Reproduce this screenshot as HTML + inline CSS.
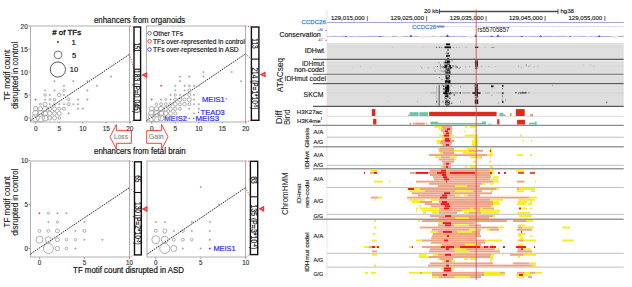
<!DOCTYPE html>
<html><head><meta charset="utf-8"><style>
html,body{margin:0;padding:0;background:#fff;}
body{width:632px;height:287px;overflow:hidden;position:relative;font-family:"Liberation Sans",sans-serif;}
svg{position:absolute;left:0;top:0;}
svg text{font-family:"Liberation Sans",sans-serif;}
</style></head><body>
<svg width="632" height="287" viewBox="0 0 632 287">
<text x="94.00" y="22.70" font-size="8.8" fill="#111" textLength="91.30" lengthAdjust="spacingAndGlyphs" stroke="#111" stroke-width="0.18">enhancers from organoids</text>
<text x="94.00" y="154.10" font-size="8.8" fill="#111" textLength="91.70" lengthAdjust="spacingAndGlyphs" stroke="#111" stroke-width="0.18">enhancers from fetal brain</text>
<rect x="30.50" y="26.00" width="99.00" height="96.00" fill="none" stroke="#b0b0b0" stroke-width="1"/>
<rect x="146.50" y="26.00" width="99.00" height="96.00" fill="none" stroke="#b0b0b0" stroke-width="1"/>
<rect x="30.50" y="161.00" width="99.00" height="96.00" fill="none" stroke="#b0b0b0" stroke-width="1"/>
<rect x="147.00" y="161.00" width="98.50" height="96.00" fill="none" stroke="#b0b0b0" stroke-width="1"/>
<line x1="35.70" y1="122.00" x2="35.70" y2="123.50" stroke="#555" stroke-width="0.6" />
<text x="35.70" y="130.50" font-size="7.2" fill="#333" text-anchor="middle" textLength="3.60" lengthAdjust="spacingAndGlyphs" stroke="#333" stroke-width="0.15">0</text>
<line x1="59.23" y1="122.00" x2="59.23" y2="123.50" stroke="#555" stroke-width="0.6" />
<text x="59.23" y="130.50" font-size="7.2" fill="#333" text-anchor="middle" textLength="3.60" lengthAdjust="spacingAndGlyphs" stroke="#333" stroke-width="0.15">5</text>
<line x1="82.75" y1="122.00" x2="82.75" y2="123.50" stroke="#555" stroke-width="0.6" />
<text x="82.75" y="130.50" font-size="7.2" fill="#333" text-anchor="middle" textLength="7.20" lengthAdjust="spacingAndGlyphs" stroke="#333" stroke-width="0.15">10</text>
<line x1="106.28" y1="122.00" x2="106.28" y2="123.50" stroke="#555" stroke-width="0.6" />
<text x="106.28" y="130.50" font-size="7.2" fill="#333" text-anchor="middle" textLength="7.20" lengthAdjust="spacingAndGlyphs" stroke="#333" stroke-width="0.15">15</text>
<line x1="129.80" y1="122.00" x2="129.80" y2="123.50" stroke="#555" stroke-width="0.6" />
<text x="129.80" y="130.50" font-size="7.2" fill="#333" text-anchor="middle" textLength="7.20" lengthAdjust="spacingAndGlyphs" stroke="#333" stroke-width="0.15">20</text>
<line x1="28.50" y1="118.00" x2="30.00" y2="118.00" stroke="#555" stroke-width="0.6" />
<text x="27.80" y="120.59" font-size="7.2" fill="#333" text-anchor="end" textLength="3.60" lengthAdjust="spacingAndGlyphs" stroke="#333" stroke-width="0.15">0</text>
<line x1="28.50" y1="95.00" x2="30.00" y2="95.00" stroke="#555" stroke-width="0.6" />
<text x="27.80" y="97.59" font-size="7.2" fill="#333" text-anchor="end" textLength="3.60" lengthAdjust="spacingAndGlyphs" stroke="#333" stroke-width="0.15">5</text>
<line x1="28.50" y1="72.00" x2="30.00" y2="72.00" stroke="#555" stroke-width="0.6" />
<text x="27.80" y="74.59" font-size="7.2" fill="#333" text-anchor="end" textLength="7.20" lengthAdjust="spacingAndGlyphs" stroke="#333" stroke-width="0.15">10</text>
<line x1="28.50" y1="49.00" x2="30.00" y2="49.00" stroke="#555" stroke-width="0.6" />
<text x="27.80" y="51.59" font-size="7.2" fill="#333" text-anchor="end" textLength="7.20" lengthAdjust="spacingAndGlyphs" stroke="#333" stroke-width="0.15">15</text>
<line x1="28.50" y1="26.00" x2="30.00" y2="26.00" stroke="#555" stroke-width="0.6" />
<text x="27.80" y="28.59" font-size="7.2" fill="#333" text-anchor="end" textLength="7.20" lengthAdjust="spacingAndGlyphs" stroke="#333" stroke-width="0.15">20</text>
<line x1="151.70" y1="122.00" x2="151.70" y2="123.50" stroke="#555" stroke-width="0.6" />
<text x="151.70" y="130.50" font-size="7.2" fill="#333" text-anchor="middle" textLength="3.60" lengthAdjust="spacingAndGlyphs" stroke="#333" stroke-width="0.15">0</text>
<line x1="175.22" y1="122.00" x2="175.22" y2="123.50" stroke="#555" stroke-width="0.6" />
<text x="175.22" y="130.50" font-size="7.2" fill="#333" text-anchor="middle" textLength="3.60" lengthAdjust="spacingAndGlyphs" stroke="#333" stroke-width="0.15">5</text>
<line x1="198.75" y1="122.00" x2="198.75" y2="123.50" stroke="#555" stroke-width="0.6" />
<text x="198.75" y="130.50" font-size="7.2" fill="#333" text-anchor="middle" textLength="7.20" lengthAdjust="spacingAndGlyphs" stroke="#333" stroke-width="0.15">10</text>
<line x1="222.27" y1="122.00" x2="222.27" y2="123.50" stroke="#555" stroke-width="0.6" />
<text x="222.27" y="130.50" font-size="7.2" fill="#333" text-anchor="middle" textLength="7.20" lengthAdjust="spacingAndGlyphs" stroke="#333" stroke-width="0.15">15</text>
<line x1="245.80" y1="122.00" x2="245.80" y2="123.50" stroke="#555" stroke-width="0.6" />
<text x="245.80" y="130.50" font-size="7.2" fill="#333" text-anchor="middle" textLength="7.20" lengthAdjust="spacingAndGlyphs" stroke="#333" stroke-width="0.15">20</text>
<line x1="39.40" y1="257.40" x2="39.40" y2="258.90" stroke="#555" stroke-width="0.6" />
<text x="39.40" y="264.60" font-size="6.4" fill="#333" text-anchor="middle" textLength="3.50" lengthAdjust="spacingAndGlyphs" stroke="#333" stroke-width="0.15">0</text>
<line x1="84.40" y1="257.40" x2="84.40" y2="258.90" stroke="#555" stroke-width="0.6" />
<text x="84.40" y="264.60" font-size="6.4" fill="#333" text-anchor="middle" textLength="3.50" lengthAdjust="spacingAndGlyphs" stroke="#333" stroke-width="0.15">5</text>
<line x1="129.40" y1="257.40" x2="129.40" y2="258.90" stroke="#555" stroke-width="0.6" />
<text x="129.40" y="264.60" font-size="6.4" fill="#333" text-anchor="middle" textLength="7.00" lengthAdjust="spacingAndGlyphs" stroke="#333" stroke-width="0.15">10</text>
<line x1="28.50" y1="248.50" x2="30.00" y2="248.50" stroke="#555" stroke-width="0.6" />
<text x="27.90" y="250.80" font-size="6.4" fill="#333" text-anchor="end" textLength="3.50" lengthAdjust="spacingAndGlyphs" stroke="#333" stroke-width="0.15">0</text>
<line x1="28.50" y1="204.50" x2="30.00" y2="204.50" stroke="#555" stroke-width="0.6" />
<text x="27.90" y="206.80" font-size="6.4" fill="#333" text-anchor="end" textLength="3.50" lengthAdjust="spacingAndGlyphs" stroke="#333" stroke-width="0.15">5</text>
<line x1="28.50" y1="160.50" x2="30.00" y2="160.50" stroke="#555" stroke-width="0.6" />
<text x="27.90" y="162.80" font-size="6.4" fill="#333" text-anchor="end" textLength="7.00" lengthAdjust="spacingAndGlyphs" stroke="#333" stroke-width="0.15">10</text>
<line x1="155.80" y1="257.40" x2="155.80" y2="258.90" stroke="#555" stroke-width="0.6" />
<text x="155.80" y="264.60" font-size="6.4" fill="#333" text-anchor="middle" textLength="3.50" lengthAdjust="spacingAndGlyphs" stroke="#333" stroke-width="0.15">0</text>
<line x1="200.80" y1="257.40" x2="200.80" y2="258.90" stroke="#555" stroke-width="0.6" />
<text x="200.80" y="264.60" font-size="6.4" fill="#333" text-anchor="middle" textLength="3.50" lengthAdjust="spacingAndGlyphs" stroke="#333" stroke-width="0.15">5</text>
<line x1="245.80" y1="257.40" x2="245.80" y2="258.90" stroke="#555" stroke-width="0.6" />
<text x="245.80" y="264.60" font-size="6.4" fill="#333" text-anchor="middle" textLength="7.00" lengthAdjust="spacingAndGlyphs" stroke="#333" stroke-width="0.15">10</text>
<text x="9.80" y="75.30" font-size="8.9" fill="#111" text-anchor="middle" textLength="51.00" lengthAdjust="spacingAndGlyphs" transform="rotate(-90 9.80 75.30)" stroke="#111" stroke-width="0.1">TF motif count</text>
<text x="18.40" y="75.30" font-size="8.9" fill="#111" text-anchor="middle" textLength="67.00" lengthAdjust="spacingAndGlyphs" transform="rotate(-90 18.40 75.30)" stroke="#111" stroke-width="0.1">disrupted in control</text>
<text x="9.80" y="202.00" font-size="8.9" fill="#111" text-anchor="middle" textLength="51.00" lengthAdjust="spacingAndGlyphs" transform="rotate(-90 9.80 202.00)" stroke="#111" stroke-width="0.1">TF motif count</text>
<text x="18.40" y="202.00" font-size="8.9" fill="#111" text-anchor="middle" textLength="67.00" lengthAdjust="spacingAndGlyphs" transform="rotate(-90 18.40 202.00)" stroke="#111" stroke-width="0.1">disrupted in control</text>
<text x="73.10" y="272.90" font-size="8.5" fill="#111" textLength="110.90" lengthAdjust="spacingAndGlyphs" stroke="#111" stroke-width="0.2">TF motif count disrupted in ASD</text>
<line x1="30.40" y1="120.70" x2="129.60" y2="54.20" stroke="#111" stroke-width="0.9" stroke-dasharray="1.6,1.0"/>
<line x1="146.50" y1="120.70" x2="245.50" y2="53.90" stroke="#111" stroke-width="0.9" stroke-dasharray="1.6,1.0"/>
<line x1="30.40" y1="254.00" x2="129.40" y2="187.70" stroke="#111" stroke-width="0.9" stroke-dasharray="1.6,1.0"/>
<line x1="147.40" y1="254.00" x2="245.40" y2="187.70" stroke="#111" stroke-width="0.9" stroke-dasharray="1.6,1.0"/>
<line x1="130.00" y1="26.00" x2="134.00" y2="27.00" stroke="#f03030" stroke-width="1.0" stroke-dasharray="1.0,1.5"/>
<line x1="129.60" y1="54.20" x2="134.00" y2="69.20" stroke="#f03030" stroke-width="1.0" stroke-dasharray="1.0,1.5"/>
<line x1="130.00" y1="122.00" x2="134.00" y2="120.30" stroke="#f03030" stroke-width="1.0" stroke-dasharray="1.0,1.5"/>
<line x1="245.50" y1="26.00" x2="251.40" y2="27.00" stroke="#f03030" stroke-width="1.0" stroke-dasharray="1.0,1.5"/>
<line x1="245.50" y1="53.90" x2="251.40" y2="59.10" stroke="#f03030" stroke-width="1.0" stroke-dasharray="1.0,1.5"/>
<line x1="245.50" y1="122.00" x2="251.40" y2="120.30" stroke="#f03030" stroke-width="1.0" stroke-dasharray="1.0,1.5"/>
<line x1="129.40" y1="161.00" x2="134.50" y2="161.80" stroke="#f03030" stroke-width="1.0" stroke-dasharray="1.0,1.5"/>
<line x1="129.40" y1="187.70" x2="134.50" y2="192.50" stroke="#f03030" stroke-width="1.0" stroke-dasharray="1.0,1.5"/>
<line x1="129.40" y1="257.40" x2="134.50" y2="254.90" stroke="#f03030" stroke-width="1.0" stroke-dasharray="1.0,1.5"/>
<line x1="245.40" y1="161.00" x2="250.40" y2="161.30" stroke="#f03030" stroke-width="1.0" stroke-dasharray="1.0,1.5"/>
<line x1="245.40" y1="187.70" x2="250.40" y2="196.80" stroke="#f03030" stroke-width="1.0" stroke-dasharray="1.0,1.5"/>
<line x1="245.40" y1="257.40" x2="250.40" y2="254.60" stroke="#f03030" stroke-width="1.0" stroke-dasharray="1.0,1.5"/>
<rect x="134.00" y="27.00" width="6.60" height="93.30" fill="#fff" stroke="#111" stroke-width="1.4"/>
<line x1="134.00" y1="69.20" x2="140.60" y2="69.20" stroke="#111" stroke-width="1.1" />
<text x="134.30" y="47.50" font-size="8.4" fill="#111" stroke="#111" stroke-width="0.2" text-anchor="middle" transform="rotate(90 134.30 47.50)" textLength="9.5" lengthAdjust="spacingAndGlyphs">151</text>
<text x="134.30" y="91.50" font-size="8.4" fill="#111" stroke="#111" stroke-width="0.2" text-anchor="middle" transform="rotate(90 134.30 91.50)" textLength="43" lengthAdjust="spacingAndGlyphs">183 (P=0.045)</text>
<rect x="251.40" y="27.00" width="7.50" height="93.30" fill="#fff" stroke="#111" stroke-width="1.4"/>
<line x1="251.40" y1="59.10" x2="258.90" y2="59.10" stroke="#111" stroke-width="1.1" />
<text x="252.15" y="43.50" font-size="8.4" fill="#111" stroke="#111" stroke-width="0.2" text-anchor="middle" transform="rotate(90 252.15 43.50)" textLength="10.5" lengthAdjust="spacingAndGlyphs">113</text>
<text x="252.15" y="88.50" font-size="8.4" fill="#111" stroke="#111" stroke-width="0.2" text-anchor="middle" transform="rotate(90 252.15 88.50)" textLength="42" lengthAdjust="spacingAndGlyphs">214 (P=1*10<tspan font-size="5" dy="-2">-5</tspan><tspan dy="2">)</tspan></text>
<rect x="134.50" y="161.80" width="6.80" height="93.10" fill="#fff" stroke="#111" stroke-width="1.4"/>
<line x1="134.50" y1="192.50" x2="141.30" y2="192.50" stroke="#111" stroke-width="1.1" />
<text x="134.90" y="178.80" font-size="8.4" fill="#111" stroke="#111" stroke-width="0.2" text-anchor="middle" transform="rotate(90 134.90 178.80)" textLength="7.3" lengthAdjust="spacingAndGlyphs">65</text>
<text x="134.90" y="223.30" font-size="8.4" fill="#111" stroke="#111" stroke-width="0.2" text-anchor="middle" transform="rotate(90 134.90 223.30)" textLength="42.7" lengthAdjust="spacingAndGlyphs">130 (P=2*10<tspan font-size="5" dy="-2">-3</tspan><tspan dy="2">)</tspan></text>
<rect x="250.40" y="161.30" width="7.30" height="93.30" fill="#fff" stroke="#111" stroke-width="1.4"/>
<line x1="250.40" y1="196.80" x2="257.70" y2="196.80" stroke="#111" stroke-width="1.1" />
<text x="251.05" y="180.00" font-size="8.4" fill="#111" stroke="#111" stroke-width="0.2" text-anchor="middle" transform="rotate(90 251.05 180.00)" textLength="7.4" lengthAdjust="spacingAndGlyphs">83</text>
<text x="251.05" y="226.80" font-size="8.4" fill="#111" stroke="#111" stroke-width="0.2" text-anchor="middle" transform="rotate(90 251.05 226.80)" textLength="44.7" lengthAdjust="spacingAndGlyphs">135 (P=3*10<tspan font-size="5" dy="-2">-4</tspan><tspan dy="2">)</tspan></text>
<polygon points="141.20,75.00 147.20,71.90 147.20,78.10" fill="#f03030"/>
<polygon points="144.40,75.00 146.00,74.20 146.00,75.80" fill="#fff" fill-opacity="0.85"/>
<polygon points="259.60,74.50 265.60,71.40 265.60,77.60" fill="#f03030"/>
<polygon points="262.80,74.50 264.40,73.70 264.40,75.30" fill="#fff" fill-opacity="0.85"/>
<polygon points="141.60,209.00 147.40,205.90 147.40,212.10" fill="#f03030"/>
<polygon points="144.80,209.00 146.20,208.20 146.20,209.80" fill="#fff" fill-opacity="0.85"/>
<polygon points="258.50,208.80 264.20,205.70 264.20,211.90" fill="#f03030"/>
<polygon points="261.70,208.80 263.00,208.00 263.00,209.60" fill="#fff" fill-opacity="0.85"/>
<polygon points="110,136.8 116.4,124.5 116.4,130.6 131.4,130.6 131.4,143.3 116.4,143.3 116.4,149.3" fill="#fff" fill-opacity="0.0" stroke="#f03030" stroke-width="0.9"/>
<polygon points="168,136.8 161.6,124.5 161.6,130.6 146.7,130.6 146.7,143.3 161.6,143.3 161.6,149.3" fill="#fff" fill-opacity="0.0" stroke="#f03030" stroke-width="0.9"/>
<text x="121.00" y="139.30" font-size="7.4" fill="#888" stroke="#888" stroke-width="0.15" text-anchor="middle" textLength="14.00" lengthAdjust="spacingAndGlyphs" >Loss</text>
<text x="156.30" y="139.30" font-size="7.4" fill="#888" stroke="#888" stroke-width="0.15" text-anchor="middle" textLength="15.00" lengthAdjust="spacingAndGlyphs" >Gain</text>
<text x="52.20" y="34.80" font-size="7.7" fill="#111" textLength="29.00" lengthAdjust="spacingAndGlyphs" stroke="#111" stroke-width="0.3"># of TFs</text>
<circle cx="57.90" cy="42.00" r="0.80" stroke="#333" fill="#333" stroke-width="0.5"/>
<text x="71.60" y="44.80" font-size="7.4" fill="#111" textLength="4.30" lengthAdjust="spacingAndGlyphs" stroke="#111" stroke-width="0.18">1</text>
<circle cx="58.00" cy="54.90" r="3.90" stroke="#555" fill="none" stroke-width="0.8"/>
<text x="71.90" y="57.60" font-size="7.4" fill="#111" textLength="4.30" lengthAdjust="spacingAndGlyphs" stroke="#111" stroke-width="0.18">5</text>
<circle cx="57.90" cy="69.50" r="7.60" stroke="#444" fill="none" stroke-width="0.9"/>
<text x="69.80" y="72.30" font-size="7.4" fill="#111" textLength="8.30" lengthAdjust="spacingAndGlyphs" stroke="#111" stroke-width="0.18">10</text>
<circle cx="149.50" cy="33.20" r="1.80" stroke="#555" fill="none" stroke-width="0.8"/>
<circle cx="149.50" cy="41.30" r="1.80" stroke="#f03030" fill="none" stroke-width="0.9"/>
<circle cx="149.50" cy="49.50" r="1.80" stroke="#3040f0" fill="none" stroke-width="0.9"/>
<text x="153.10" y="35.80" font-size="7.0" fill="#111" stroke="#111" stroke-width="0.15" textLength="30.10" lengthAdjust="spacingAndGlyphs" >Other TFs</text>
<text x="153.10" y="43.70" font-size="7.0" fill="#111" stroke="#111" stroke-width="0.15" textLength="91.80" lengthAdjust="spacingAndGlyphs" >TFs over-represented in control</text>
<text x="153.10" y="51.60" font-size="7.0" fill="#111" stroke="#111" stroke-width="0.15" textLength="85.50" lengthAdjust="spacingAndGlyphs" >TFs over-represented in ASD</text>
<text x="202.00" y="101.70" font-size="7.9" fill="#2a2af2" textLength="22.80" lengthAdjust="spacingAndGlyphs" stroke="#2a2af2" stroke-width="0.2">MEIS1</text>
<line x1="225.50" y1="98.90" x2="227.00" y2="98.90" stroke="#2a2af2" stroke-width="0.7" />
<text x="200.60" y="114.90" font-size="7.9" fill="#2a2af2" textLength="24.20" lengthAdjust="spacingAndGlyphs" stroke="#2a2af2" stroke-width="0.2">TEAD3</text>
<circle cx="198.50" cy="112.30" r="0.50" stroke="#2a2af2" fill="#2a2af2" stroke-width="0.3"/>
<text x="164.30" y="121.00" font-size="7.9" fill="#2a2af2" textLength="22.70" lengthAdjust="spacingAndGlyphs" stroke="#2a2af2" stroke-width="0.2">MEIS2</text>
<circle cx="189.20" cy="118.20" r="0.50" stroke="#2a2af2" fill="#2a2af2" stroke-width="0.3"/>
<text x="195.60" y="121.00" font-size="7.9" fill="#2a2af2" textLength="23.50" lengthAdjust="spacingAndGlyphs" stroke="#2a2af2" stroke-width="0.2">MEIS3</text>
<circle cx="193.80" cy="118.20" r="0.50" stroke="#2a2af2" fill="#2a2af2" stroke-width="0.3"/>
<text x="213.40" y="251.30" font-size="7.9" fill="#2a2af2" textLength="22.10" lengthAdjust="spacingAndGlyphs" stroke="#2a2af2" stroke-width="0.2">MEIS1</text>
<circle cx="209.80" cy="248.50" r="0.70" stroke="#2a2af2" fill="#2a2af2" stroke-width="0.3"/>
<circle cx="54.52" cy="81.20" r="0.75" stroke="#a2a2a2" fill="#a2a2a2" stroke-width="0.5"/>
<circle cx="73.34" cy="81.20" r="0.75" stroke="#a2a2a2" fill="#a2a2a2" stroke-width="0.5"/>
<circle cx="87.46" cy="81.20" r="0.75" stroke="#a2a2a2" fill="#a2a2a2" stroke-width="0.5"/>
<circle cx="110.98" cy="76.60" r="0.75" stroke="#a2a2a2" fill="#a2a2a2" stroke-width="0.5"/>
<circle cx="63.93" cy="85.80" r="0.75" stroke="#a2a2a2" fill="#a2a2a2" stroke-width="0.5"/>
<circle cx="96.87" cy="85.80" r="0.75" stroke="#a2a2a2" fill="#a2a2a2" stroke-width="0.5"/>
<circle cx="45.11" cy="90.40" r="0.75" stroke="#a2a2a2" fill="#a2a2a2" stroke-width="0.5"/>
<circle cx="54.52" cy="90.40" r="0.75" stroke="#a2a2a2" fill="#a2a2a2" stroke-width="0.5"/>
<circle cx="63.93" cy="90.40" r="1.20" stroke="#a2a2a2" fill="none" stroke-width="0.85"/>
<circle cx="87.46" cy="90.40" r="0.75" stroke="#a2a2a2" fill="#a2a2a2" stroke-width="0.5"/>
<circle cx="45.11" cy="95.00" r="1.20" stroke="#a2a2a2" fill="none" stroke-width="0.85"/>
<circle cx="49.82" cy="95.00" r="0.75" stroke="#a2a2a2" fill="#a2a2a2" stroke-width="0.5"/>
<circle cx="59.23" cy="95.00" r="1.80" stroke="#a2a2a2" fill="none" stroke-width="0.85"/>
<circle cx="63.93" cy="95.00" r="0.75" stroke="#a2a2a2" fill="#a2a2a2" stroke-width="0.5"/>
<circle cx="45.11" cy="99.60" r="0.75" stroke="#a2a2a2" fill="#a2a2a2" stroke-width="0.5"/>
<circle cx="49.82" cy="99.60" r="1.00" stroke="#a2a2a2" fill="none" stroke-width="0.85"/>
<circle cx="54.52" cy="99.60" r="1.30" stroke="#a2a2a2" fill="none" stroke-width="0.85"/>
<circle cx="68.64" cy="99.60" r="1.30" stroke="#a2a2a2" fill="none" stroke-width="0.85"/>
<circle cx="78.05" cy="99.60" r="0.75" stroke="#a2a2a2" fill="#a2a2a2" stroke-width="0.5"/>
<circle cx="87.46" cy="99.60" r="0.75" stroke="#a2a2a2" fill="#a2a2a2" stroke-width="0.5"/>
<circle cx="40.41" cy="104.20" r="1.00" stroke="#a2a2a2" fill="none" stroke-width="0.85"/>
<circle cx="45.11" cy="104.20" r="2.00" stroke="#a2a2a2" fill="none" stroke-width="0.85"/>
<circle cx="49.82" cy="104.20" r="0.75" stroke="#a2a2a2" fill="#a2a2a2" stroke-width="0.5"/>
<circle cx="54.52" cy="104.20" r="1.30" stroke="#a2a2a2" fill="none" stroke-width="0.85"/>
<circle cx="59.23" cy="104.20" r="0.75" stroke="#a2a2a2" fill="#a2a2a2" stroke-width="0.5"/>
<circle cx="63.93" cy="104.20" r="0.75" stroke="#a2a2a2" fill="#a2a2a2" stroke-width="0.5"/>
<circle cx="68.64" cy="104.20" r="1.60" stroke="#a2a2a2" fill="none" stroke-width="0.85"/>
<circle cx="73.34" cy="104.20" r="0.75" stroke="#a2a2a2" fill="#a2a2a2" stroke-width="0.5"/>
<circle cx="78.05" cy="104.20" r="0.75" stroke="#a2a2a2" fill="#a2a2a2" stroke-width="0.5"/>
<circle cx="35.70" cy="108.80" r="2.20" stroke="#a2a2a2" fill="none" stroke-width="0.85"/>
<circle cx="40.41" cy="108.80" r="2.20" stroke="#a2a2a2" fill="none" stroke-width="0.85"/>
<circle cx="45.11" cy="108.80" r="2.50" stroke="#a2a2a2" fill="none" stroke-width="0.85"/>
<circle cx="49.82" cy="108.80" r="2.00" stroke="#a2a2a2" fill="none" stroke-width="0.85"/>
<circle cx="54.52" cy="108.80" r="2.00" stroke="#a2a2a2" fill="none" stroke-width="0.85"/>
<circle cx="59.23" cy="108.80" r="1.50" stroke="#a2a2a2" fill="none" stroke-width="0.85"/>
<circle cx="63.93" cy="108.80" r="1.50" stroke="#a2a2a2" fill="none" stroke-width="0.85"/>
<circle cx="78.05" cy="108.80" r="0.75" stroke="#a2a2a2" fill="#a2a2a2" stroke-width="0.5"/>
<circle cx="82.75" cy="108.80" r="0.75" stroke="#a2a2a2" fill="#a2a2a2" stroke-width="0.5"/>
<circle cx="35.70" cy="113.40" r="3.00" stroke="#a2a2a2" fill="none" stroke-width="0.85"/>
<circle cx="40.41" cy="113.40" r="3.00" stroke="#a2a2a2" fill="none" stroke-width="0.85"/>
<circle cx="45.11" cy="113.40" r="2.60" stroke="#a2a2a2" fill="none" stroke-width="0.85"/>
<circle cx="49.82" cy="113.40" r="2.20" stroke="#a2a2a2" fill="none" stroke-width="0.85"/>
<circle cx="54.52" cy="113.40" r="2.00" stroke="#a2a2a2" fill="none" stroke-width="0.85"/>
<circle cx="59.23" cy="113.40" r="2.00" stroke="#a2a2a2" fill="none" stroke-width="0.85"/>
<circle cx="68.64" cy="113.40" r="0.75" stroke="#a2a2a2" fill="#a2a2a2" stroke-width="0.5"/>
<circle cx="35.70" cy="118.00" r="3.60" stroke="#a2a2a2" fill="none" stroke-width="0.85"/>
<circle cx="40.41" cy="118.00" r="4.00" stroke="#a2a2a2" fill="none" stroke-width="0.85"/>
<circle cx="45.11" cy="118.00" r="3.00" stroke="#a2a2a2" fill="none" stroke-width="0.85"/>
<circle cx="49.82" cy="118.00" r="2.00" stroke="#a2a2a2" fill="none" stroke-width="0.85"/>
<circle cx="54.52" cy="118.00" r="2.00" stroke="#a2a2a2" fill="none" stroke-width="0.85"/>
<circle cx="59.23" cy="118.00" r="1.30" stroke="#a2a2a2" fill="none" stroke-width="0.85"/>
<circle cx="35.70" cy="99.60" r="0.70" stroke="#f03030" fill="#f03030" stroke-width="0.4"/>
<circle cx="179.93" cy="76.60" r="0.75" stroke="#a2a2a2" fill="#a2a2a2" stroke-width="0.5"/>
<circle cx="189.34" cy="76.60" r="0.75" stroke="#a2a2a2" fill="#a2a2a2" stroke-width="0.5"/>
<circle cx="203.45" cy="72.00" r="0.75" stroke="#a2a2a2" fill="#a2a2a2" stroke-width="0.5"/>
<circle cx="203.45" cy="76.60" r="0.75" stroke="#a2a2a2" fill="#a2a2a2" stroke-width="0.5"/>
<circle cx="231.69" cy="72.00" r="0.75" stroke="#a2a2a2" fill="#a2a2a2" stroke-width="0.5"/>
<circle cx="241.09" cy="81.20" r="0.75" stroke="#a2a2a2" fill="#a2a2a2" stroke-width="0.5"/>
<circle cx="179.93" cy="81.20" r="0.75" stroke="#a2a2a2" fill="#a2a2a2" stroke-width="0.5"/>
<circle cx="175.22" cy="85.80" r="0.75" stroke="#a2a2a2" fill="#a2a2a2" stroke-width="0.5"/>
<circle cx="184.63" cy="85.80" r="0.75" stroke="#a2a2a2" fill="#a2a2a2" stroke-width="0.5"/>
<circle cx="189.34" cy="85.80" r="1.00" stroke="#a2a2a2" fill="none" stroke-width="0.85"/>
<circle cx="194.04" cy="85.80" r="0.75" stroke="#a2a2a2" fill="#a2a2a2" stroke-width="0.5"/>
<circle cx="198.75" cy="85.80" r="0.75" stroke="#a2a2a2" fill="#a2a2a2" stroke-width="0.5"/>
<circle cx="175.22" cy="90.40" r="0.75" stroke="#a2a2a2" fill="#a2a2a2" stroke-width="0.5"/>
<circle cx="184.63" cy="90.40" r="0.75" stroke="#a2a2a2" fill="#a2a2a2" stroke-width="0.5"/>
<circle cx="189.34" cy="90.40" r="1.50" stroke="#a2a2a2" fill="none" stroke-width="0.85"/>
<circle cx="170.52" cy="95.00" r="0.75" stroke="#a2a2a2" fill="#a2a2a2" stroke-width="0.5"/>
<circle cx="175.22" cy="95.00" r="1.20" stroke="#a2a2a2" fill="none" stroke-width="0.85"/>
<circle cx="179.93" cy="95.00" r="0.75" stroke="#a2a2a2" fill="#a2a2a2" stroke-width="0.5"/>
<circle cx="184.63" cy="95.00" r="0.75" stroke="#a2a2a2" fill="#a2a2a2" stroke-width="0.5"/>
<circle cx="189.34" cy="95.00" r="1.50" stroke="#a2a2a2" fill="none" stroke-width="0.85"/>
<circle cx="194.04" cy="95.00" r="0.75" stroke="#a2a2a2" fill="#a2a2a2" stroke-width="0.5"/>
<circle cx="161.11" cy="99.60" r="0.75" stroke="#a2a2a2" fill="#a2a2a2" stroke-width="0.5"/>
<circle cx="165.81" cy="99.60" r="1.00" stroke="#a2a2a2" fill="none" stroke-width="0.85"/>
<circle cx="170.52" cy="99.60" r="0.75" stroke="#a2a2a2" fill="#a2a2a2" stroke-width="0.5"/>
<circle cx="175.22" cy="99.60" r="1.50" stroke="#a2a2a2" fill="none" stroke-width="0.85"/>
<circle cx="179.93" cy="99.60" r="2.00" stroke="#a2a2a2" fill="none" stroke-width="0.85"/>
<circle cx="184.63" cy="99.60" r="1.50" stroke="#a2a2a2" fill="none" stroke-width="0.85"/>
<circle cx="189.34" cy="99.60" r="2.00" stroke="#a2a2a2" fill="none" stroke-width="0.85"/>
<circle cx="194.04" cy="99.60" r="0.75" stroke="#a2a2a2" fill="#a2a2a2" stroke-width="0.5"/>
<circle cx="203.45" cy="99.60" r="0.75" stroke="#a2a2a2" fill="#a2a2a2" stroke-width="0.5"/>
<circle cx="156.41" cy="104.20" r="1.30" stroke="#a2a2a2" fill="none" stroke-width="0.85"/>
<circle cx="161.11" cy="104.20" r="1.50" stroke="#a2a2a2" fill="none" stroke-width="0.85"/>
<circle cx="165.81" cy="104.20" r="1.50" stroke="#a2a2a2" fill="none" stroke-width="0.85"/>
<circle cx="170.52" cy="104.20" r="1.50" stroke="#a2a2a2" fill="none" stroke-width="0.85"/>
<circle cx="175.22" cy="104.20" r="2.00" stroke="#a2a2a2" fill="none" stroke-width="0.85"/>
<circle cx="179.93" cy="104.20" r="1.50" stroke="#a2a2a2" fill="none" stroke-width="0.85"/>
<circle cx="184.63" cy="104.20" r="1.80" stroke="#a2a2a2" fill="none" stroke-width="0.85"/>
<circle cx="189.34" cy="104.20" r="1.50" stroke="#a2a2a2" fill="none" stroke-width="0.85"/>
<circle cx="194.04" cy="104.20" r="0.75" stroke="#a2a2a2" fill="#a2a2a2" stroke-width="0.5"/>
<circle cx="198.75" cy="104.20" r="0.75" stroke="#a2a2a2" fill="#a2a2a2" stroke-width="0.5"/>
<circle cx="151.70" cy="108.80" r="2.20" stroke="#a2a2a2" fill="none" stroke-width="0.85"/>
<circle cx="156.41" cy="108.80" r="2.20" stroke="#a2a2a2" fill="none" stroke-width="0.85"/>
<circle cx="161.11" cy="108.80" r="2.50" stroke="#a2a2a2" fill="none" stroke-width="0.85"/>
<circle cx="165.81" cy="108.80" r="2.20" stroke="#a2a2a2" fill="none" stroke-width="0.85"/>
<circle cx="170.52" cy="108.80" r="2.00" stroke="#a2a2a2" fill="none" stroke-width="0.85"/>
<circle cx="175.22" cy="108.80" r="1.80" stroke="#a2a2a2" fill="none" stroke-width="0.85"/>
<circle cx="179.93" cy="108.80" r="1.50" stroke="#a2a2a2" fill="none" stroke-width="0.85"/>
<circle cx="189.34" cy="108.80" r="0.75" stroke="#a2a2a2" fill="#a2a2a2" stroke-width="0.5"/>
<circle cx="198.75" cy="108.80" r="0.75" stroke="#a2a2a2" fill="#a2a2a2" stroke-width="0.5"/>
<circle cx="151.70" cy="113.40" r="3.00" stroke="#a2a2a2" fill="none" stroke-width="0.85"/>
<circle cx="156.41" cy="113.40" r="3.20" stroke="#a2a2a2" fill="none" stroke-width="0.85"/>
<circle cx="161.11" cy="113.40" r="2.80" stroke="#a2a2a2" fill="none" stroke-width="0.85"/>
<circle cx="165.81" cy="113.40" r="2.20" stroke="#a2a2a2" fill="none" stroke-width="0.85"/>
<circle cx="170.52" cy="113.40" r="2.00" stroke="#a2a2a2" fill="none" stroke-width="0.85"/>
<circle cx="175.22" cy="113.40" r="1.50" stroke="#a2a2a2" fill="none" stroke-width="0.85"/>
<circle cx="194.04" cy="113.40" r="0.75" stroke="#a2a2a2" fill="#a2a2a2" stroke-width="0.5"/>
<circle cx="151.70" cy="118.00" r="3.60" stroke="#a2a2a2" fill="none" stroke-width="0.85"/>
<circle cx="156.41" cy="118.00" r="4.00" stroke="#a2a2a2" fill="none" stroke-width="0.85"/>
<circle cx="161.11" cy="118.00" r="3.00" stroke="#a2a2a2" fill="none" stroke-width="0.85"/>
<circle cx="165.81" cy="118.00" r="2.00" stroke="#a2a2a2" fill="none" stroke-width="0.85"/>
<circle cx="170.52" cy="118.00" r="1.50" stroke="#a2a2a2" fill="none" stroke-width="0.85"/>
<circle cx="184.63" cy="118.00" r="0.75" stroke="#a2a2a2" fill="#a2a2a2" stroke-width="0.5"/>
<circle cx="151.70" cy="99.60" r="0.70" stroke="#f03030" fill="#f03030" stroke-width="0.4"/>
<circle cx="161.11" cy="85.80" r="0.70" stroke="#f03030" fill="#f03030" stroke-width="0.4"/>
<circle cx="48.40" cy="213.30" r="1.10" stroke="#a2a2a2" fill="none" stroke-width="0.85"/>
<circle cx="57.40" cy="213.30" r="0.75" stroke="#a2a2a2" fill="#a2a2a2" stroke-width="0.5"/>
<circle cx="66.40" cy="213.30" r="0.75" stroke="#a2a2a2" fill="#a2a2a2" stroke-width="0.5"/>
<circle cx="48.40" cy="222.10" r="0.75" stroke="#a2a2a2" fill="#a2a2a2" stroke-width="0.5"/>
<circle cx="57.40" cy="222.10" r="1.10" stroke="#a2a2a2" fill="none" stroke-width="0.85"/>
<circle cx="84.40" cy="222.10" r="0.75" stroke="#a2a2a2" fill="#a2a2a2" stroke-width="0.5"/>
<circle cx="39.40" cy="230.90" r="1.50" stroke="#a2a2a2" fill="none" stroke-width="0.85"/>
<circle cx="48.40" cy="230.90" r="1.50" stroke="#a2a2a2" fill="none" stroke-width="0.85"/>
<circle cx="57.40" cy="230.90" r="2.00" stroke="#a2a2a2" fill="none" stroke-width="0.85"/>
<circle cx="75.40" cy="230.90" r="0.75" stroke="#a2a2a2" fill="#a2a2a2" stroke-width="0.5"/>
<circle cx="84.40" cy="230.90" r="1.50" stroke="#a2a2a2" fill="none" stroke-width="0.85"/>
<circle cx="39.40" cy="239.70" r="3.50" stroke="#a2a2a2" fill="none" stroke-width="0.85"/>
<circle cx="48.40" cy="239.70" r="3.00" stroke="#a2a2a2" fill="none" stroke-width="0.85"/>
<circle cx="57.40" cy="239.70" r="2.00" stroke="#a2a2a2" fill="none" stroke-width="0.85"/>
<circle cx="66.40" cy="239.70" r="1.30" stroke="#a2a2a2" fill="none" stroke-width="0.85"/>
<circle cx="75.40" cy="239.70" r="1.20" stroke="#a2a2a2" fill="none" stroke-width="0.85"/>
<circle cx="84.40" cy="239.70" r="0.75" stroke="#a2a2a2" fill="#a2a2a2" stroke-width="0.5"/>
<circle cx="102.40" cy="239.70" r="0.75" stroke="#a2a2a2" fill="#a2a2a2" stroke-width="0.5"/>
<circle cx="48.40" cy="248.50" r="5.00" stroke="#a2a2a2" fill="none" stroke-width="0.85"/>
<circle cx="57.40" cy="248.50" r="2.20" stroke="#a2a2a2" fill="none" stroke-width="0.85"/>
<circle cx="66.40" cy="248.50" r="1.30" stroke="#a2a2a2" fill="none" stroke-width="0.85"/>
<circle cx="75.40" cy="248.50" r="0.75" stroke="#a2a2a2" fill="#a2a2a2" stroke-width="0.5"/>
<circle cx="39.40" cy="213.30" r="0.70" stroke="#f03030" fill="#f03030" stroke-width="0.4"/>
<circle cx="200.80" cy="186.90" r="0.75" stroke="#a2a2a2" fill="#a2a2a2" stroke-width="0.5"/>
<circle cx="218.80" cy="204.50" r="0.75" stroke="#a2a2a2" fill="#a2a2a2" stroke-width="0.5"/>
<circle cx="155.80" cy="222.10" r="0.75" stroke="#a2a2a2" fill="#a2a2a2" stroke-width="0.5"/>
<circle cx="164.80" cy="222.10" r="0.75" stroke="#a2a2a2" fill="#a2a2a2" stroke-width="0.5"/>
<circle cx="191.80" cy="222.10" r="0.75" stroke="#a2a2a2" fill="#a2a2a2" stroke-width="0.5"/>
<circle cx="209.80" cy="222.10" r="0.75" stroke="#a2a2a2" fill="#a2a2a2" stroke-width="0.5"/>
<circle cx="155.80" cy="230.90" r="1.50" stroke="#a2a2a2" fill="none" stroke-width="0.85"/>
<circle cx="164.80" cy="230.90" r="2.00" stroke="#a2a2a2" fill="none" stroke-width="0.85"/>
<circle cx="173.80" cy="230.90" r="0.75" stroke="#a2a2a2" fill="#a2a2a2" stroke-width="0.5"/>
<circle cx="182.80" cy="230.90" r="1.50" stroke="#a2a2a2" fill="none" stroke-width="0.85"/>
<circle cx="191.80" cy="230.90" r="0.75" stroke="#a2a2a2" fill="#a2a2a2" stroke-width="0.5"/>
<circle cx="209.80" cy="230.90" r="0.75" stroke="#a2a2a2" fill="#a2a2a2" stroke-width="0.5"/>
<circle cx="155.80" cy="239.70" r="4.00" stroke="#a2a2a2" fill="none" stroke-width="0.85"/>
<circle cx="164.80" cy="239.70" r="3.50" stroke="#a2a2a2" fill="none" stroke-width="0.85"/>
<circle cx="173.80" cy="239.70" r="1.50" stroke="#a2a2a2" fill="none" stroke-width="0.85"/>
<circle cx="182.80" cy="239.70" r="1.50" stroke="#a2a2a2" fill="none" stroke-width="0.85"/>
<circle cx="191.80" cy="239.70" r="1.30" stroke="#a2a2a2" fill="none" stroke-width="0.85"/>
<circle cx="209.80" cy="239.70" r="0.75" stroke="#a2a2a2" fill="#a2a2a2" stroke-width="0.5"/>
<circle cx="164.80" cy="248.50" r="5.00" stroke="#a2a2a2" fill="none" stroke-width="0.85"/>
<circle cx="173.80" cy="248.50" r="3.00" stroke="#a2a2a2" fill="none" stroke-width="0.85"/>
<circle cx="182.80" cy="248.50" r="0.75" stroke="#a2a2a2" fill="#a2a2a2" stroke-width="0.5"/>
<circle cx="200.80" cy="248.50" r="0.75" stroke="#a2a2a2" fill="#a2a2a2" stroke-width="0.5"/>
<line x1="326.90" y1="9.40" x2="326.90" y2="278.50" stroke="#f4d8dc" stroke-width="0.8" />
<text x="424.00" y="13.20" font-size="6.2" fill="#222" stroke="#222" stroke-width="0.15" textLength="14.50" lengthAdjust="spacingAndGlyphs" >20 kb</text>
<line x1="439.50" y1="11.50" x2="558.00" y2="11.50" stroke="#4a4a4a" stroke-width="1.3" />
<line x1="439.50" y1="9.00" x2="439.50" y2="14.00" stroke="#333" stroke-width="0.8" />
<line x1="558.00" y1="9.00" x2="558.00" y2="14.00" stroke="#333" stroke-width="0.8" />
<text x="560.50" y="13.20" font-size="6.2" fill="#222" stroke="#222" stroke-width="0.15" textLength="13.50" lengthAdjust="spacingAndGlyphs" >hg38</text>
<text x="331.00" y="19.90" font-size="5.9" fill="#222" stroke="#222" stroke-width="0.15" textLength="37.00" lengthAdjust="spacingAndGlyphs" >129,015,000 |</text>
<text x="390.40" y="19.90" font-size="5.9" fill="#222" stroke="#222" stroke-width="0.15" textLength="37.00" lengthAdjust="spacingAndGlyphs" >129,025,000 |</text>
<text x="449.80" y="19.90" font-size="5.9" fill="#222" stroke="#222" stroke-width="0.15" textLength="37.00" lengthAdjust="spacingAndGlyphs" >129,035,000 |</text>
<text x="508.90" y="19.90" font-size="5.9" fill="#222" stroke="#222" stroke-width="0.15" textLength="37.00" lengthAdjust="spacingAndGlyphs" >129,045,000 |</text>
<text x="568.50" y="19.90" font-size="5.9" fill="#222" stroke="#222" stroke-width="0.15" textLength="37.00" lengthAdjust="spacingAndGlyphs" >129,055,000 |</text>
<line x1="327.00" y1="22.50" x2="623.70" y2="22.50" stroke="#8080c0" stroke-width="0.7" />
<text x="325.80" y="24.40" font-size="6.2" fill="#3a88d4" stroke="#3a88d4" stroke-width="0.25" text-anchor="end" textLength="24.20" lengthAdjust="spacingAndGlyphs" >CCDC26</text>
<text x="412.00" y="28.90" font-size="6.2" fill="#4a90d8" stroke="#4a90d8" stroke-width="0.25" textLength="24.20" lengthAdjust="spacingAndGlyphs" >CCDC26</text>
<rect x="436.60" y="25.60" width="7.80" height="1.90" fill="#7a7ad4" />
<line x1="444.40" y1="26.50" x2="623.70" y2="26.50" stroke="#a0a0e0" stroke-width="0.6" stroke-dasharray="0.8,0.6"/>
<text x="477.40" y="32.30" font-size="6.3" fill="#222" stroke="#222" stroke-width="0.05" textLength="32.10" lengthAdjust="spacingAndGlyphs" >rs55705857</text>
<text x="279.40" y="36.60" font-size="7.2" fill="#111" stroke="#111" stroke-width="0.15" textLength="41.40" lengthAdjust="spacingAndGlyphs" >Conservation</text>
<text x="322.60" y="31.40" font-size="3.2" fill="#4a5ab0" stroke="#4a5ab0" stroke-width="0.15" text-anchor="end" textLength="4.50" lengthAdjust="spacingAndGlyphs" >+3.6</text>
<text x="322.60" y="41.40" font-size="3.2" fill="#c05050" stroke="#c05050" stroke-width="0.15" text-anchor="end" textLength="4.50" lengthAdjust="spacingAndGlyphs" >-4.1</text>
<line x1="325.00" y1="30.60" x2="327.00" y2="30.60" stroke="#4a5ab0" stroke-width="0.6" />
<line x1="325.00" y1="40.30" x2="327.00" y2="40.30" stroke="#c05050" stroke-width="0.6" />
<line x1="327.00" y1="36.40" x2="332.17" y2="36.40" stroke="#9090d0" stroke-width="0.6" />
<line x1="332.17" y1="36.40" x2="337.33" y2="36.40" stroke="#7070c0" stroke-width="0.6" />
<line x1="337.33" y1="36.40" x2="340.62" y2="36.40" stroke="#9090d0" stroke-width="0.6" />
<line x1="340.62" y1="36.40" x2="347.03" y2="36.40" stroke="#7070c0" stroke-width="0.6" />
<line x1="347.03" y1="36.80" x2="349.69" y2="36.80" stroke="#d8a8a0" stroke-width="0.6" />
<line x1="349.69" y1="36.40" x2="352.68" y2="36.40" stroke="#7070c0" stroke-width="0.6" />
<line x1="352.68" y1="36.40" x2="358.85" y2="36.40" stroke="#9090d0" stroke-width="0.6" />
<line x1="358.85" y1="36.40" x2="367.60" y2="36.40" stroke="#7070c0" stroke-width="0.6" />
<line x1="367.60" y1="36.40" x2="373.97" y2="36.40" stroke="#7070c0" stroke-width="0.6" />
<line x1="373.97" y1="36.40" x2="376.38" y2="36.40" stroke="#7070c0" stroke-width="0.6" />
<line x1="376.38" y1="36.40" x2="384.54" y2="36.40" stroke="#7070c0" stroke-width="0.6" />
<line x1="384.54" y1="36.80" x2="391.99" y2="36.80" stroke="#d8a8a0" stroke-width="0.6" />
<line x1="391.99" y1="36.40" x2="397.07" y2="36.40" stroke="#7070c0" stroke-width="0.6" />
<line x1="397.07" y1="36.80" x2="402.70" y2="36.80" stroke="#d8a8a0" stroke-width="0.6" />
<line x1="402.70" y1="36.40" x2="408.20" y2="36.40" stroke="#7070c0" stroke-width="0.6" />
<line x1="408.20" y1="36.80" x2="413.40" y2="36.80" stroke="#d8a8a0" stroke-width="0.6" />
<line x1="413.40" y1="36.40" x2="418.25" y2="36.40" stroke="#7070c0" stroke-width="0.6" />
<line x1="418.25" y1="36.80" x2="425.21" y2="36.80" stroke="#d8a8a0" stroke-width="0.6" />
<line x1="425.21" y1="36.80" x2="432.51" y2="36.80" stroke="#d8a8a0" stroke-width="0.6" />
<line x1="432.51" y1="36.40" x2="434.72" y2="36.40" stroke="#7070c0" stroke-width="0.6" />
<line x1="434.72" y1="36.80" x2="439.52" y2="36.80" stroke="#d8a8a0" stroke-width="0.6" />
<line x1="439.52" y1="36.40" x2="444.23" y2="36.40" stroke="#7070c0" stroke-width="0.6" />
<line x1="444.23" y1="36.40" x2="452.16" y2="36.40" stroke="#7070c0" stroke-width="0.6" />
<line x1="452.16" y1="36.40" x2="455.65" y2="36.40" stroke="#7070c0" stroke-width="0.6" />
<line x1="455.65" y1="36.40" x2="460.94" y2="36.40" stroke="#9090d0" stroke-width="0.6" />
<line x1="460.94" y1="36.40" x2="465.88" y2="36.40" stroke="#7070c0" stroke-width="0.6" />
<line x1="465.88" y1="36.80" x2="473.33" y2="36.80" stroke="#d8a8a0" stroke-width="0.6" />
<line x1="473.33" y1="36.80" x2="477.69" y2="36.80" stroke="#d8a8a0" stroke-width="0.6" />
<line x1="477.69" y1="36.40" x2="482.02" y2="36.40" stroke="#9090d0" stroke-width="0.6" />
<line x1="482.02" y1="36.40" x2="489.32" y2="36.40" stroke="#7070c0" stroke-width="0.6" />
<line x1="489.32" y1="36.40" x2="492.27" y2="36.40" stroke="#7070c0" stroke-width="0.6" />
<line x1="492.27" y1="36.40" x2="494.34" y2="36.40" stroke="#9090d0" stroke-width="0.6" />
<line x1="494.34" y1="36.40" x2="501.92" y2="36.40" stroke="#7070c0" stroke-width="0.6" />
<line x1="501.92" y1="36.40" x2="508.70" y2="36.40" stroke="#7070c0" stroke-width="0.6" />
<line x1="508.70" y1="36.40" x2="513.83" y2="36.40" stroke="#7070c0" stroke-width="0.6" />
<line x1="513.83" y1="36.40" x2="522.73" y2="36.40" stroke="#7070c0" stroke-width="0.6" />
<line x1="522.73" y1="36.40" x2="527.66" y2="36.40" stroke="#9090d0" stroke-width="0.6" />
<line x1="527.66" y1="36.40" x2="530.48" y2="36.40" stroke="#9090d0" stroke-width="0.6" />
<line x1="530.48" y1="36.40" x2="539.41" y2="36.40" stroke="#7070c0" stroke-width="0.6" />
<line x1="539.41" y1="36.80" x2="543.30" y2="36.80" stroke="#d8a8a0" stroke-width="0.6" />
<line x1="543.30" y1="36.40" x2="552.28" y2="36.40" stroke="#7070c0" stroke-width="0.6" />
<line x1="552.28" y1="36.40" x2="555.76" y2="36.40" stroke="#9090d0" stroke-width="0.6" />
<line x1="555.76" y1="36.40" x2="564.73" y2="36.40" stroke="#7070c0" stroke-width="0.6" />
<line x1="564.73" y1="36.40" x2="567.02" y2="36.40" stroke="#7070c0" stroke-width="0.6" />
<line x1="567.02" y1="36.80" x2="570.51" y2="36.80" stroke="#d8a8a0" stroke-width="0.6" />
<line x1="570.51" y1="36.80" x2="572.58" y2="36.80" stroke="#d8a8a0" stroke-width="0.6" />
<line x1="572.58" y1="36.40" x2="580.39" y2="36.40" stroke="#9090d0" stroke-width="0.6" />
<line x1="580.39" y1="36.40" x2="582.91" y2="36.40" stroke="#7070c0" stroke-width="0.6" />
<line x1="582.91" y1="36.40" x2="586.37" y2="36.40" stroke="#7070c0" stroke-width="0.6" />
<line x1="586.37" y1="36.80" x2="588.48" y2="36.80" stroke="#d8a8a0" stroke-width="0.6" />
<line x1="588.48" y1="36.40" x2="593.08" y2="36.40" stroke="#9090d0" stroke-width="0.6" />
<line x1="593.08" y1="36.40" x2="595.97" y2="36.40" stroke="#9090d0" stroke-width="0.6" />
<line x1="595.97" y1="36.40" x2="603.80" y2="36.40" stroke="#7070c0" stroke-width="0.6" />
<line x1="603.80" y1="36.40" x2="611.86" y2="36.40" stroke="#7070c0" stroke-width="0.6" />
<line x1="611.86" y1="36.80" x2="618.25" y2="36.80" stroke="#d8a8a0" stroke-width="0.6" />
<line x1="618.25" y1="36.40" x2="623.70" y2="36.40" stroke="#7070c0" stroke-width="0.6" />
<polygon points="344.4,36.8 346.0,36.0 347.6,36.8" fill="#3a3aa8"/>
<polygon points="378.4,36.8 380.0,36.0 381.6,36.8" fill="#3a3aa8"/>
<polygon points="409.3,36.8 410.9,34.4 412.5,36.8" fill="#3a3aa8"/>
<polygon points="445.9,36.8 447.5,34.4 449.1,36.8" fill="#3a3aa8"/>
<polygon points="474.1,36.8 475.7,34.4 477.3,36.8" fill="#3a3aa8"/>
<polygon points="490.2,36.8 491.8,35.4 493.4,36.8" fill="#3a3aa8"/>
<polygon points="496.4,36.8 498.0,34.6 499.6,36.8" fill="#3a3aa8"/>
<polygon points="520.3,36.8 521.9,35.8 523.5,36.8" fill="#3a3aa8"/>
<polygon points="539.1,36.8 540.7,35.2 542.3,36.8" fill="#3a3aa8"/>
<polygon points="568.4,36.8 570.0,36.0 571.6,36.8" fill="#3a3aa8"/>
<polygon points="597.6,36.8 599.2,35.2 600.8,36.8" fill="#3a3aa8"/>
<rect x="327.00" y="43.10" width="296.70" height="16.10" fill="#dedede" />
<rect x="327.00" y="60.60" width="296.70" height="13.30" fill="#dedede" />
<rect x="327.00" y="75.20" width="296.70" height="8.20" fill="#dedede" />
<rect x="327.00" y="84.60" width="296.70" height="21.20" fill="#dedede" />
<line x1="327.00" y1="47.30" x2="623.70" y2="47.30" stroke="#d6d6d6" stroke-width="0.5" />
<line x1="327.00" y1="66.50" x2="623.70" y2="66.50" stroke="#d8d8d8" stroke-width="0.5" />
<line x1="327.00" y1="92.90" x2="623.70" y2="92.90" stroke="#cfcfcf" stroke-width="0.8" />
<line x1="313.00" y1="59.40" x2="623.70" y2="59.40" stroke="#5a5a5a" stroke-width="1.2" />
<line x1="313.00" y1="74.30" x2="623.70" y2="74.30" stroke="#6a6a6a" stroke-width="1.0" />
<line x1="313.00" y1="83.60" x2="623.70" y2="83.60" stroke="#5a5a5a" stroke-width="1.2" />
<line x1="313.00" y1="106.30" x2="623.70" y2="106.30" stroke="#555" stroke-width="1.2" />
<text x="324.00" y="53.00" font-size="7.4" fill="#111" stroke="#111" stroke-width="0.15" text-anchor="end" textLength="19.20" lengthAdjust="spacingAndGlyphs" >IDHwt</text>
<text x="324.00" y="66.00" font-size="7.4" fill="#222" stroke="#222" stroke-width="0.15" text-anchor="end" textLength="22.00" lengthAdjust="spacingAndGlyphs" >IDHmut</text>
<text x="324.00" y="71.90" font-size="7.4" fill="#111" stroke="#111" stroke-width="0.15" text-anchor="end" textLength="29.80" lengthAdjust="spacingAndGlyphs" >non-codel</text>
<text x="326.00" y="81.10" font-size="7.4" fill="#222" stroke="#222" stroke-width="0.15" text-anchor="end" textLength="41.50" lengthAdjust="spacingAndGlyphs" >IDHmut codel</text>
<text x="323.40" y="96.80" font-size="7.4" fill="#222" stroke="#222" stroke-width="0.15" text-anchor="end" textLength="19.80" lengthAdjust="spacingAndGlyphs" >SKCM</text>
<text x="282.60" y="75.00" font-size="8.8" fill="#1a1a1a" stroke="#1a1a1a" stroke-width="0.1" text-anchor="middle" textLength="34.40" lengthAdjust="spacingAndGlyphs" transform="rotate(-90 282.60 75.00)" >ATACseq</text>
<rect x="446.00" y="43.40" width="4.00" height="1.90" fill="#111" />
<rect x="444.50" y="46.40" width="6.50" height="1.80" fill="#0a0a0a" />
<rect x="447.00" y="49.40" width="2.00" height="1.60" fill="#888" />
<rect x="446.80" y="52.80" width="2.40" height="1.60" fill="#555" />
<rect x="446.00" y="55.00" width="4.00" height="2.20" fill="#333" />
<rect x="436.00" y="46.80" width="1.20" height="1.00" fill="#555" />
<rect x="439.00" y="46.80" width="1.00" height="1.00" fill="#444" />
<rect x="441.00" y="46.90" width="1.00" height="0.80" fill="#666" />
<rect x="453.00" y="46.90" width="1.00" height="0.80" fill="#777" />
<rect x="456.00" y="46.90" width="1.00" height="0.80" fill="#888" />
<rect x="459.00" y="46.90" width="1.00" height="0.80" fill="#999" />
<rect x="465.50" y="46.90" width="1.10" height="0.80" fill="#888" />
<rect x="475.00" y="46.60" width="3.20" height="1.40" fill="#222" />
<rect x="484.50" y="46.90" width="1.00" height="0.80" fill="#aaa" />
<rect x="491.00" y="46.90" width="3.50" height="1.00" fill="#999" />
<rect x="392.00" y="46.90" width="1.00" height="0.80" fill="#bbb" />
<rect x="422.00" y="46.90" width="1.00" height="0.80" fill="#bbb" />
<rect x="447.00" y="58.00" width="2.00" height="1.00" fill="#555" />
<rect x="445.00" y="60.40" width="5.00" height="3.00" fill="#111" />
<rect x="446.00" y="63.40" width="3.00" height="1.00" fill="#777" />
<rect x="444.50" y="64.40" width="6.50" height="3.80" fill="#050505" />
<rect x="445.50" y="68.20" width="4.00" height="1.20" fill="#666" />
<rect x="445.50" y="69.40" width="4.50" height="4.40" fill="#222" />
<rect x="475.00" y="60.40" width="3.00" height="6.40" fill="#333" />
<rect x="476.00" y="66.80" width="1.50" height="2.20" fill="#666" />
<rect x="437.00" y="66.00" width="1.00" height="1.00" fill="#777" />
<rect x="440.00" y="64.50" width="1.00" height="1.00" fill="#888" />
<rect x="442.00" y="66.00" width="2.00" height="1.50" fill="#666" />
<rect x="452.00" y="65.50" width="2.00" height="1.50" fill="#666" />
<rect x="456.00" y="66.00" width="1.00" height="1.00" fill="#888" />
<rect x="460.00" y="67.00" width="1.00" height="1.00" fill="#999" />
<rect x="465.00" y="66.50" width="1.00" height="1.00" fill="#aaa" />
<rect x="469.00" y="66.00" width="1.00" height="1.00" fill="#aaa" />
<rect x="481.00" y="66.00" width="1.00" height="1.00" fill="#aaa" />
<rect x="488.00" y="66.00" width="1.00" height="1.00" fill="#bbb" />
<rect x="495.00" y="66.00" width="1.00" height="1.00" fill="#bbb" />
<rect x="360.00" y="66.00" width="1.00" height="1.00" fill="#bbb" />
<rect x="352.00" y="67.00" width="1.00" height="1.00" fill="#ccc" />
<rect x="370.00" y="67.00" width="1.00" height="1.00" fill="#ccc" />
<rect x="420.00" y="66.00" width="1.00" height="1.00" fill="#bbb" />
<rect x="441.00" y="70.50" width="2.00" height="1.00" fill="#999" />
<rect x="445.50" y="75.20" width="4.50" height="3.80" fill="#222" />
<rect x="446.00" y="79.00" width="3.50" height="1.00" fill="#777" />
<rect x="445.00" y="80.00" width="5.50" height="3.20" fill="#111" />
<rect x="439.00" y="77.00" width="1.00" height="1.00" fill="#888" />
<rect x="441.00" y="79.00" width="2.00" height="1.00" fill="#aaa" />
<rect x="444.90" y="84.70" width="4.40" height="12.30" fill="#080808" />
<rect x="443.00" y="92.30" width="8.50" height="1.80" fill="#000" />
<rect x="446.00" y="97.00" width="2.60" height="3.50" fill="#888" />
<rect x="445.00" y="100.50" width="4.60" height="4.20" fill="#0a0a0a" />
<rect x="446.00" y="104.70" width="3.00" height="1.30" fill="#666" />
<rect x="438.60" y="84.80" width="1.20" height="21.20" fill="#666" />
<rect x="436.30" y="86.00" width="0.80" height="19.00" fill="#b0b0b0" />
<rect x="436.00" y="100.80" width="1.20" height="1.60" fill="#555" />
<rect x="442.50" y="101.00" width="1.00" height="1.50" fill="#666" />
<rect x="474.80" y="84.10" width="3.20" height="11.90" fill="#2a2a2a" />
<rect x="472.30" y="92.20" width="8.20" height="1.70" fill="#222" />
<rect x="475.50" y="96.00" width="2.00" height="3.50" fill="#888" />
<rect x="474.80" y="99.50" width="3.40" height="4.50" fill="#222" />
<rect x="459.50" y="92.00" width="1.30" height="2.00" fill="#555" />
<rect x="460.00" y="86.00" width="1.00" height="1.50" fill="#999" />
<rect x="460.00" y="101.00" width="1.00" height="1.50" fill="#aaa" />
<rect x="491.00" y="85.30" width="2.50" height="1.90" fill="#222" />
<rect x="491.50" y="94.50" width="1.00" height="1.50" fill="#aaa" />
<rect x="491.60" y="88.00" width="0.80" height="4.00" fill="#ccc" />
<rect x="502.00" y="85.00" width="1.50" height="1.80" fill="#222" />
<rect x="502.00" y="88.00" width="1.00" height="1.20" fill="#555" />
<rect x="502.00" y="92.20" width="1.50" height="1.80" fill="#333" />
<rect x="502.00" y="95.50" width="1.00" height="1.30" fill="#666" />
<rect x="502.00" y="101.00" width="1.50" height="2.00" fill="#222" />
<rect x="502.20" y="97.00" width="0.80" height="3.50" fill="#bbb" />
<rect x="430.00" y="92.50" width="6.00" height="0.90" fill="#aaa" />
<rect x="452.00" y="92.50" width="6.00" height="0.90" fill="#777" />
<rect x="462.00" y="92.50" width="8.00" height="0.90" fill="#999" />
<rect x="485.00" y="92.50" width="5.00" height="0.90" fill="#aaa" />
<rect x="496.00" y="92.50" width="4.00" height="0.90" fill="#bbb" />
<rect x="520.00" y="92.20" width="6.00" height="1.40" fill="#555" />
<rect x="528.00" y="92.40" width="2.00" height="1.00" fill="#999" />
<rect x="500.00" y="92.40" width="2.00" height="1.00" fill="#bbb" />
<rect x="417.00" y="100.80" width="1.00" height="1.20" fill="#bbb" />
<rect x="387.00" y="101.00" width="1.00" height="1.00" fill="#ccc" />
<rect x="552.00" y="84.80" width="1.00" height="1.20" fill="#aaa" />
<rect x="606.00" y="101.80" width="1.20" height="1.40" fill="#666" />
<rect x="526.00" y="92.40" width="1.00" height="1.00" fill="#888" />
<rect x="445.36" y="70.24" width="1.46" height="1.39" fill="#e4e4e4" />
<rect x="445.56" y="60.59" width="1.13" height="1.55" fill="#e4e4e4" />
<rect x="447.46" y="65.10" width="1.41" height="1.10" fill="#d8d8d8" />
<rect x="447.32" y="67.69" width="0.81" height="0.97" fill="#c8c8c8" />
<rect x="447.83" y="65.44" width="1.33" height="0.86" fill="#e4e4e4" />
<rect x="449.25" y="68.32" width="0.89" height="0.80" fill="#d8d8d8" />
<rect x="447.01" y="72.76" width="1.41" height="1.03" fill="#d8d8d8" />
<rect x="447.67" y="67.26" width="1.27" height="0.96" fill="#e4e4e4" />
<rect x="448.11" y="65.22" width="0.82" height="1.13" fill="#d8d8d8" />
<rect x="449.92" y="63.57" width="1.03" height="1.45" fill="#e4e4e4" />
<rect x="448.80" y="91.03" width="1.02" height="1.45" fill="#c8c8c8" />
<rect x="447.07" y="98.34" width="0.93" height="1.18" fill="#d8d8d8" />
<rect x="449.89" y="84.72" width="1.32" height="1.48" fill="#d8d8d8" />
<rect x="448.10" y="95.43" width="1.09" height="1.10" fill="#d8d8d8" />
<rect x="444.97" y="97.03" width="1.47" height="0.90" fill="#d8d8d8" />
<rect x="447.32" y="103.06" width="1.46" height="1.08" fill="#c8c8c8" />
<rect x="447.61" y="93.54" width="1.21" height="1.42" fill="#c8c8c8" />
<rect x="446.52" y="101.42" width="0.83" height="1.56" fill="#d8d8d8" />
<rect x="447.42" y="91.74" width="0.90" height="1.02" fill="#e4e4e4" />
<rect x="448.38" y="95.38" width="1.02" height="1.05" fill="#d8d8d8" />
<rect x="447.50" y="98.83" width="1.02" height="1.19" fill="#e4e4e4" />
<rect x="445.15" y="85.36" width="1.49" height="1.23" fill="#c8c8c8" />
<rect x="448.62" y="77.42" width="0.98" height="1.32" fill="#d8d8d8" />
<rect x="447.11" y="75.50" width="1.44" height="0.83" fill="#c8c8c8" />
<rect x="446.56" y="82.41" width="1.19" height="0.91" fill="#c8c8c8" />
<rect x="447.54" y="75.84" width="1.10" height="0.92" fill="#c8c8c8" />
<rect x="445.97" y="72.70" width="1.48" height="1.58" fill="#666" />
<rect x="449.57" y="72.45" width="1.35" height="1.05" fill="#444" />
<rect x="446.28" y="61.61" width="1.10" height="1.59" fill="#222" />
<rect x="449.46" y="68.12" width="1.20" height="1.07" fill="#000" />
<rect x="443.77" y="67.20" width="1.20" height="0.85" fill="#444" />
<rect x="446.99" y="68.83" width="1.33" height="1.41" fill="#444" />
<rect x="443.40" y="70.57" width="1.01" height="1.58" fill="#aaa" />
<rect x="445.32" y="63.66" width="1.56" height="1.32" fill="#999" />
<rect x="448.73" y="70.05" width="1.06" height="1.02" fill="#444" />
<rect x="444.48" y="70.40" width="1.32" height="1.44" fill="#444" />
<rect x="446.58" y="71.92" width="1.13" height="1.54" fill="#222" />
<rect x="449.19" y="71.02" width="1.35" height="1.58" fill="#444" />
<rect x="443.59" y="61.89" width="1.47" height="1.55" fill="#666" />
<rect x="446.71" y="63.51" width="0.86" height="1.34" fill="#666" />
<rect x="448.97" y="67.48" width="1.33" height="1.14" fill="#999" />
<rect x="450.74" y="67.18" width="1.49" height="1.02" fill="#000" />
<rect x="448.19" y="67.91" width="0.94" height="1.41" fill="#222" />
<rect x="450.34" y="68.11" width="0.83" height="1.18" fill="#222" />
<rect x="449.48" y="61.35" width="1.57" height="1.19" fill="#999" />
<rect x="451.65" y="60.41" width="1.17" height="1.10" fill="#999" />
<rect x="448.53" y="69.29" width="1.10" height="1.08" fill="#444" />
<rect x="447.52" y="70.95" width="1.49" height="1.35" fill="#999" />
<rect x="446.57" y="67.86" width="0.88" height="1.24" fill="#444" />
<rect x="447.48" y="72.32" width="1.03" height="1.08" fill="#222" />
<rect x="442.79" y="68.39" width="1.10" height="0.91" fill="#999" />
<rect x="449.23" y="65.00" width="1.18" height="0.96" fill="#222" />
<rect x="445.37" y="102.85" width="0.80" height="0.89" fill="#999" />
<rect x="445.48" y="103.24" width="1.23" height="1.06" fill="#999" />
<rect x="445.17" y="88.70" width="1.03" height="1.58" fill="#666" />
<rect x="448.55" y="92.28" width="1.48" height="0.93" fill="#999" />
<rect x="446.52" y="94.55" width="1.13" height="1.06" fill="#444" />
<rect x="453.73" y="94.39" width="1.03" height="1.18" fill="#000" />
<rect x="443.81" y="89.43" width="0.83" height="0.91" fill="#666" />
<rect x="441.73" y="84.56" width="1.23" height="1.02" fill="#666" />
<rect x="447.40" y="89.55" width="0.92" height="1.59" fill="#444" />
<rect x="444.94" y="94.38" width="1.59" height="1.21" fill="#999" />
<rect x="450.78" y="84.62" width="0.90" height="1.03" fill="#aaa" />
<rect x="443.51" y="91.15" width="1.04" height="1.22" fill="#666" />
<rect x="444.92" y="101.22" width="0.91" height="0.80" fill="#999" />
<rect x="449.67" y="93.48" width="1.53" height="1.51" fill="#999" />
<rect x="447.78" y="100.84" width="1.28" height="1.35" fill="#aaa" />
<rect x="449.13" y="97.50" width="1.49" height="1.47" fill="#666" />
<rect x="443.33" y="88.13" width="1.04" height="1.46" fill="#000" />
<rect x="450.05" y="90.37" width="0.80" height="1.42" fill="#999" />
<rect x="446.10" y="103.06" width="0.91" height="1.18" fill="#999" />
<rect x="450.78" y="102.58" width="1.58" height="1.23" fill="#666" />
<rect x="443.24" y="85.49" width="0.98" height="1.46" fill="#000" />
<rect x="444.84" y="97.85" width="0.82" height="1.38" fill="#000" />
<rect x="450.49" y="85.32" width="1.47" height="0.98" fill="#aaa" />
<rect x="447.02" y="101.11" width="0.89" height="1.52" fill="#444" />
<rect x="446.32" y="87.87" width="0.95" height="1.44" fill="#000" />
<rect x="444.61" y="97.24" width="0.83" height="0.89" fill="#666" />
<rect x="447.02" y="79.22" width="0.87" height="1.12" fill="#999" />
<rect x="445.35" y="75.98" width="1.06" height="1.05" fill="#999" />
<rect x="444.96" y="79.97" width="1.35" height="0.91" fill="#444" />
<rect x="447.03" y="76.03" width="1.18" height="1.20" fill="#999" />
<rect x="445.69" y="75.24" width="0.94" height="1.47" fill="#444" />
<rect x="446.62" y="78.88" width="0.88" height="0.99" fill="#444" />
<rect x="445.19" y="75.95" width="0.81" height="1.07" fill="#999" />
<rect x="447.65" y="80.06" width="0.85" height="0.90" fill="#999" />
<rect x="445.29" y="52.95" width="1.38" height="0.89" fill="#aaa" />
<rect x="447.34" y="48.86" width="1.24" height="0.84" fill="#555" />
<rect x="448.47" y="56.11" width="1.25" height="0.87" fill="#aaa" />
<rect x="446.46" y="52.99" width="0.93" height="1.36" fill="#888" />
<rect x="446.20" y="51.63" width="1.17" height="1.08" fill="#888" />
<rect x="447.81" y="52.05" width="1.23" height="1.09" fill="#888" />
<rect x="476.45" y="67.95" width="1.11" height="1.27" fill="#888" />
<rect x="474.64" y="62.12" width="0.91" height="0.85" fill="#333" />
<rect x="476.75" y="60.28" width="1.33" height="1.18" fill="#555" />
<rect x="476.15" y="59.75" width="1.08" height="1.51" fill="#888" />
<rect x="477.13" y="64.23" width="0.91" height="1.32" fill="#333" />
<rect x="475.40" y="63.31" width="1.03" height="1.50" fill="#333" />
<rect x="475.23" y="67.61" width="1.25" height="1.34" fill="#333" />
<rect x="475.87" y="64.31" width="0.82" height="1.54" fill="#555" />
<rect x="475.72" y="84.70" width="1.12" height="1.48" fill="#444" />
<rect x="476.38" y="86.84" width="1.27" height="1.03" fill="#444" />
<rect x="475.97" y="88.53" width="0.82" height="0.98" fill="#222" />
<rect x="474.83" y="96.67" width="1.44" height="1.37" fill="#777" />
<rect x="476.36" y="85.75" width="1.50" height="1.17" fill="#444" />
<rect x="477.42" y="88.10" width="0.95" height="0.84" fill="#999" />
<rect x="475.75" y="93.57" width="1.12" height="1.35" fill="#444" />
<rect x="474.65" y="85.10" width="1.18" height="1.59" fill="#777" />
<rect x="478.18" y="89.30" width="1.36" height="0.87" fill="#999" />
<rect x="475.07" y="85.66" width="0.97" height="0.84" fill="#999" />
<rect x="476.04" y="101.01" width="1.11" height="1.31" fill="#222" />
<rect x="475.54" y="103.32" width="0.94" height="1.36" fill="#999" />
<rect x="476.27" y="103.10" width="1.35" height="0.87" fill="#444" />
<rect x="476.88" y="96.48" width="1.40" height="0.97" fill="#222" />
<rect x="440.92" y="66.16" width="1.11" height="1.22" fill="#aaa" />
<rect x="455.49" y="67.15" width="1.17" height="1.05" fill="#666" />
<rect x="488.97" y="66.57" width="0.86" height="1.19" fill="#bbb" />
<rect x="421.19" y="67.51" width="0.93" height="0.90" fill="#888" />
<rect x="433.15" y="67.23" width="1.19" height="1.33" fill="#bbb" />
<rect x="454.75" y="65.27" width="1.08" height="0.84" fill="#aaa" />
<rect x="458.69" y="67.45" width="0.83" height="1.42" fill="#666" />
<rect x="427.69" y="67.00" width="1.02" height="1.52" fill="#aaa" />
<rect x="439.91" y="67.17" width="1.06" height="1.56" fill="#888" />
<rect x="445.68" y="66.88" width="0.91" height="1.45" fill="#666" />
<rect x="441.80" y="65.82" width="0.85" height="1.20" fill="#bbb" />
<rect x="447.58" y="65.65" width="0.83" height="1.41" fill="#888" />
<rect x="455.34" y="65.15" width="0.94" height="1.49" fill="#888" />
<rect x="452.18" y="65.65" width="0.97" height="1.09" fill="#bbb" />
<rect x="447.06" y="66.56" width="0.87" height="1.59" fill="#bbb" />
<rect x="457.14" y="66.41" width="0.87" height="1.37" fill="#666" />
<rect x="439.93" y="65.50" width="0.93" height="1.16" fill="#888" />
<rect x="435.26" y="65.92" width="0.97" height="1.15" fill="#bbb" />
<rect x="444.02" y="72.66" width="1.04" height="0.88" fill="#aaa" />
<rect x="437.64" y="69.01" width="0.88" height="0.80" fill="#bbb" />
<rect x="440.06" y="64.63" width="0.99" height="0.96" fill="#888" />
<rect x="445.72" y="63.74" width="1.01" height="1.41" fill="#888" />
<rect x="434.60" y="70.32" width="1.07" height="1.53" fill="#888" />
<rect x="444.93" y="68.08" width="0.96" height="0.91" fill="#888" />
<rect x="438.47" y="62.02" width="0.84" height="1.37" fill="#888" />
<rect x="439.52" y="70.26" width="1.10" height="1.18" fill="#aaa" />
<rect x="533.83" y="66.50" width="0.91" height="0.81" fill="#999" />
<rect x="518.04" y="65.59" width="0.99" height="1.45" fill="#aaa" />
<rect x="525.77" y="64.85" width="0.91" height="1.18" fill="#999" />
<rect x="528.24" y="65.86" width="0.93" height="1.43" fill="#999" />
<rect x="537.43" y="65.79" width="0.96" height="1.44" fill="#bbb" />
<rect x="520.94" y="66.67" width="0.81" height="1.42" fill="#aaa" />
<rect x="525.86" y="64.13" width="0.91" height="1.26" fill="#999" />
<rect x="529.60" y="65.33" width="1.09" height="0.81" fill="#999" />
<rect x="589.88" y="64.24" width="0.99" height="1.04" fill="#c0c0c0" />
<rect x="593.38" y="65.87" width="0.97" height="1.39" fill="#bbb" />
<rect x="583.45" y="64.15" width="0.87" height="1.43" fill="#c0c0c0" />
<rect x="521.83" y="92.26" width="0.80" height="1.11" fill="#777" />
<rect x="521.46" y="92.04" width="1.14" height="1.06" fill="#999" />
<rect x="515.30" y="91.82" width="1.14" height="1.24" fill="#555" />
<rect x="525.29" y="91.71" width="0.95" height="1.44" fill="#555" />
<rect x="520.98" y="91.97" width="1.28" height="0.86" fill="#999" />
<rect x="521.83" y="91.65" width="1.08" height="1.46" fill="#555" />
<rect x="517.95" y="92.68" width="1.01" height="1.14" fill="#555" />
<rect x="518.50" y="92.09" width="0.84" height="1.51" fill="#999" />
<rect x="519.46" y="92.10" width="0.82" height="0.89" fill="#555" />
<rect x="515.46" y="92.42" width="0.96" height="0.88" fill="#555" />
<rect x="501.72" y="99.20" width="0.82" height="1.56" fill="#999" />
<rect x="505.06" y="99.25" width="0.97" height="1.32" fill="#999" />
<rect x="498.21" y="102.64" width="0.92" height="1.44" fill="#999" />
<text x="281.60" y="117.30" font-size="8.4" fill="#222" text-anchor="middle" textLength="14.00" lengthAdjust="spacingAndGlyphs" transform="rotate(-90 281.60 117.30)" >Diff</text>
<text x="289.60" y="117.30" font-size="8.4" fill="#222" text-anchor="middle" textLength="15.60" lengthAdjust="spacingAndGlyphs" transform="rotate(-90 289.60 117.30)" >Bind</text>
<text x="322.10" y="114.10" font-size="6.0" fill="#222" stroke="#222" stroke-width="0.15" text-anchor="end" textLength="25.30" lengthAdjust="spacingAndGlyphs" >H3K27ac</text>
<text x="320.60" y="122.50" font-size="6.0" fill="#222" stroke="#222" stroke-width="0.15" text-anchor="end" textLength="23.50" lengthAdjust="spacingAndGlyphs" >H3K4me</text>
<text x="320.80" y="120.00" font-size="3.6" fill="#222" stroke="#222" stroke-width="0.15" textLength="1.60" lengthAdjust="spacingAndGlyphs" >1</text>
<line x1="327.00" y1="116.30" x2="623.70" y2="116.30" stroke="#cfcfcf" stroke-width="0.8" />
<line x1="313.00" y1="125.40" x2="623.70" y2="125.40" stroke="#8a8a8a" stroke-width="1.4" />
<rect x="371.80" y="109.10" width="3.60" height="6.90" fill="#e02a20" />
<rect x="373.10" y="118.90" width="3.30" height="5.60" fill="#e02a20" />
<rect x="409.50" y="112.20" width="9.10" height="3.80" fill="#6cc4a8" />
<rect x="419.40" y="112.20" width="8.70" height="3.80" fill="#6cc4a8" />
<rect x="408.00" y="114.50" width="1.00" height="1.50" fill="#ee8a6a" />
<rect x="429.10" y="111.80" width="67.50" height="4.20" fill="#e02a20" />
<rect x="499.40" y="112.90" width="4.10" height="3.10" fill="#6cc4a8" />
<rect x="503.50" y="114.50" width="2.00" height="1.50" fill="#ee8a6a" />
<rect x="509.90" y="113.00" width="1.60" height="3.00" fill="#ee8a6a" />
<rect x="515.80" y="109.10" width="8.90" height="6.90" fill="#e02a20" />
<rect x="530.00" y="114.20" width="3.00" height="1.80" fill="#ee8a6a" />
<rect x="409.50" y="122.80" width="1.50" height="1.70" fill="#ee8a6a" />
<rect x="413.00" y="122.80" width="1.50" height="1.70" fill="#ee8a6a" />
<rect x="415.20" y="122.70" width="9.50" height="1.80" fill="#ee8a6a" />
<rect x="426.00" y="123.20" width="1.20" height="1.30" fill="#ee8a6a" />
<rect x="430.40" y="121.70" width="7.60" height="2.80" fill="#6cc4a8" />
<rect x="438.00" y="122.90" width="44.00" height="1.60" fill="#6cc4a8" />
<rect x="482.00" y="121.50" width="4.00" height="3.00" fill="#6cc4a8" />
<rect x="488.00" y="123.60" width="4.00" height="0.90" fill="#c8a090" />
<rect x="497.20" y="119.20" width="2.20" height="5.30" fill="#e02a20" />
<rect x="517.10" y="119.80" width="8.00" height="4.70" fill="#e02a20" />
<rect x="529.20" y="122.70" width="7.30" height="1.80" fill="#6cc4a8" />
<rect x="535.00" y="121.50" width="1.50" height="3.00" fill="#6cc4a8" />
<line x1="327.00" y1="137.20" x2="623.70" y2="137.20" stroke="#b8b8b8" stroke-width="0.9" />
<line x1="327.00" y1="165.30" x2="623.70" y2="165.30" stroke="#b8b8b8" stroke-width="0.9" />
<line x1="327.00" y1="187.40" x2="623.70" y2="187.40" stroke="#b8b8b8" stroke-width="0.9" />
<line x1="327.00" y1="214.30" x2="623.70" y2="214.30" stroke="#b8b8b8" stroke-width="0.9" />
<line x1="327.00" y1="253.30" x2="623.70" y2="253.30" stroke="#b8b8b8" stroke-width="0.9" />
<line x1="327.00" y1="267.10" x2="623.70" y2="267.10" stroke="#b8b8b8" stroke-width="0.9" />
<line x1="313.00" y1="146.80" x2="623.70" y2="146.80" stroke="#999" stroke-width="1.5" />
<line x1="313.00" y1="168.80" x2="623.70" y2="168.80" stroke="#999" stroke-width="1.5" />
<line x1="313.00" y1="219.20" x2="623.70" y2="219.20" stroke="#999" stroke-width="1.5" />
<text x="287.60" y="193.70" font-size="8.8" fill="#222" text-anchor="middle" textLength="42.80" lengthAdjust="spacingAndGlyphs" transform="rotate(-90 287.60 193.70)" >ChromHMM</text>
<text x="309.40" y="137.60" font-size="6.0" fill="#222" stroke="#222" stroke-width="0.15" text-anchor="middle" textLength="19.90" lengthAdjust="spacingAndGlyphs" transform="rotate(-90 309.40 137.60)" >Gliosis</text>
<text x="309.40" y="160.00" font-size="6.0" fill="#222" stroke="#222" stroke-width="0.15" text-anchor="middle" textLength="17.80" lengthAdjust="spacingAndGlyphs" transform="rotate(-90 309.40 160.00)" >IDHwt</text>
<text x="301.40" y="193.70" font-size="6.0" fill="#222" stroke="#222" stroke-width="0.15" text-anchor="middle" textLength="20.00" lengthAdjust="spacingAndGlyphs" transform="rotate(-90 301.40 193.70)" >IDHmut</text>
<text x="309.00" y="193.70" font-size="6.0" fill="#222" stroke="#222" stroke-width="0.15" text-anchor="middle" textLength="28.10" lengthAdjust="spacingAndGlyphs" transform="rotate(-90 309.00 193.70)" >non-codel</text>
<text x="309.40" y="252.00" font-size="6.0" fill="#222" stroke="#222" stroke-width="0.15" text-anchor="middle" textLength="39.40" lengthAdjust="spacingAndGlyphs" transform="rotate(-90 309.40 252.00)" >IDHmut codel</text>
<text x="323.20" y="133.60" font-size="5.8" fill="#222" stroke="#222" stroke-width="0.15" text-anchor="end" textLength="9.80" lengthAdjust="spacingAndGlyphs" >A/A</text>
<text x="323.20" y="143.80" font-size="5.8" fill="#222" stroke="#222" stroke-width="0.15" text-anchor="end" textLength="9.80" lengthAdjust="spacingAndGlyphs" >A/G</text>
<text x="323.20" y="156.60" font-size="5.8" fill="#222" stroke="#222" stroke-width="0.15" text-anchor="end" textLength="9.80" lengthAdjust="spacingAndGlyphs" >A/A</text>
<text x="323.20" y="166.80" font-size="5.8" fill="#222" stroke="#222" stroke-width="0.15" text-anchor="end" textLength="9.80" lengthAdjust="spacingAndGlyphs" >A/G</text>
<text x="323.20" y="180.70" font-size="5.8" fill="#222" stroke="#222" stroke-width="0.15" text-anchor="end" textLength="9.80" lengthAdjust="spacingAndGlyphs" >A/A</text>
<text x="323.20" y="203.20" font-size="5.8" fill="#222" stroke="#222" stroke-width="0.15" text-anchor="end" textLength="9.80" lengthAdjust="spacingAndGlyphs" >A/G</text>
<text x="323.20" y="217.80" font-size="5.8" fill="#222" stroke="#222" stroke-width="0.15" text-anchor="end" textLength="9.80" lengthAdjust="spacingAndGlyphs" >G/G</text>
<text x="323.20" y="238.10" font-size="5.8" fill="#222" stroke="#222" stroke-width="0.15" text-anchor="end" textLength="9.80" lengthAdjust="spacingAndGlyphs" >A/A</text>
<text x="323.20" y="262.30" font-size="5.8" fill="#222" stroke="#222" stroke-width="0.15" text-anchor="end" textLength="9.80" lengthAdjust="spacingAndGlyphs" >A/G</text>
<text x="323.20" y="275.90" font-size="5.8" fill="#222" stroke="#222" stroke-width="0.15" text-anchor="end" textLength="9.80" lengthAdjust="spacingAndGlyphs" >G/G</text>
<rect x="441.50" y="125.93" width="10.50" height="1.95" fill="#eca386" />
<rect x="434.50" y="125.93" width="7.00" height="1.95" fill="#f8ec24" />
<rect x="465.00" y="125.93" width="2.00" height="1.95" fill="#f8ec24" />
<rect x="470.00" y="125.93" width="5.50" height="1.95" fill="#f8ec24" />
<rect x="442.00" y="128.12" width="5.00" height="1.95" fill="#eca386" />
<rect x="450.00" y="128.12" width="2.00" height="1.95" fill="#eca386" />
<rect x="439.00" y="128.12" width="3.00" height="1.95" fill="#f8ec24" />
<rect x="447.00" y="128.12" width="3.00" height="1.95" fill="#ec1820" />
<rect x="441.00" y="130.33" width="11.00" height="1.95" fill="#eca386" />
<rect x="464.00" y="130.33" width="1.00" height="1.95" fill="#f8ec24" />
<rect x="474.50" y="130.33" width="1.00" height="1.95" fill="#f8ec24" />
<rect x="445.00" y="130.33" width="3.00" height="1.95" fill="#ec1820" />
<rect x="443.00" y="132.43" width="9.00" height="1.95" fill="#eca386" />
<rect x="446.00" y="132.43" width="3.00" height="1.95" fill="#ec1820" />
<rect x="443.00" y="134.62" width="7.00" height="1.95" fill="#eca386" />
<rect x="439.00" y="134.62" width="4.00" height="1.95" fill="#f8ec24" />
<rect x="450.00" y="134.62" width="4.00" height="1.95" fill="#f8ec24" />
<rect x="465.00" y="134.62" width="13.00" height="1.95" fill="#f8ec24" />
<rect x="520.00" y="134.62" width="2.00" height="1.95" fill="#f8ec24" />
<rect x="444.00" y="134.62" width="5.00" height="1.95" fill="#ec1820" />
<rect x="443.00" y="137.93" width="8.00" height="1.95" fill="#eca386" />
<rect x="442.00" y="137.93" width="4.00" height="1.95" fill="#f8ec24" />
<rect x="474.00" y="137.93" width="4.00" height="1.95" fill="#f8ec24" />
<rect x="445.00" y="137.93" width="4.00" height="1.95" fill="#ec1820" />
<rect x="441.00" y="139.93" width="13.00" height="1.95" fill="#eca386" />
<rect x="436.00" y="139.93" width="5.00" height="1.95" fill="#f8ec24" />
<rect x="454.00" y="139.93" width="1.00" height="1.95" fill="#f8ec24" />
<rect x="472.00" y="139.93" width="6.00" height="1.95" fill="#f8ec24" />
<rect x="523.00" y="139.93" width="1.00" height="1.95" fill="#f8ec24" />
<rect x="531.00" y="139.93" width="1.00" height="1.95" fill="#f8ec24" />
<rect x="445.00" y="139.93" width="5.00" height="1.95" fill="#ec1820" />
<rect x="440.00" y="141.93" width="12.00" height="1.95" fill="#eca386" />
<rect x="437.00" y="141.93" width="3.00" height="1.95" fill="#f8ec24" />
<rect x="472.00" y="141.93" width="6.00" height="1.95" fill="#f8ec24" />
<rect x="443.00" y="144.03" width="8.00" height="1.95" fill="#eca386" />
<rect x="441.00" y="144.03" width="2.00" height="1.95" fill="#f8ec24" />
<rect x="472.00" y="144.03" width="6.00" height="1.95" fill="#f8ec24" />
<rect x="446.00" y="144.03" width="3.00" height="1.95" fill="#ec1820" />
<rect x="440.00" y="147.72" width="14.00" height="1.95" fill="#eca386" />
<rect x="438.00" y="147.72" width="2.00" height="1.95" fill="#f8ec24" />
<rect x="466.50" y="147.72" width="8.50" height="1.95" fill="#f8ec24" />
<rect x="490.00" y="147.72" width="2.00" height="1.95" fill="#f8ec24" />
<rect x="439.00" y="149.83" width="15.00" height="1.95" fill="#eca386" />
<rect x="469.00" y="149.83" width="14.00" height="1.95" fill="#eca386" />
<rect x="454.00" y="149.83" width="15.00" height="1.95" fill="#f8ec24" />
<rect x="489.00" y="149.83" width="3.00" height="1.95" fill="#f8ec24" />
<rect x="490.00" y="149.83" width="1.00" height="1.95" fill="#ec1820" />
<rect x="443.00" y="152.03" width="11.00" height="1.95" fill="#eca386" />
<rect x="440.00" y="152.03" width="3.00" height="1.95" fill="#f8ec24" />
<rect x="463.00" y="152.03" width="13.00" height="1.95" fill="#f8ec24" />
<rect x="490.00" y="152.03" width="2.00" height="1.95" fill="#f8ec24" />
<rect x="429.00" y="154.12" width="58.00" height="1.95" fill="#eca386" />
<rect x="487.00" y="154.12" width="6.00" height="1.95" fill="#f8ec24" />
<rect x="517.00" y="154.12" width="6.00" height="1.95" fill="#f8ec24" />
<rect x="530.00" y="154.12" width="2.00" height="1.95" fill="#f8ec24" />
<rect x="441.00" y="156.33" width="9.00" height="1.95" fill="#eca386" />
<rect x="476.00" y="156.33" width="6.00" height="1.95" fill="#eca386" />
<rect x="435.00" y="156.33" width="6.00" height="1.95" fill="#f8ec24" />
<rect x="450.00" y="156.33" width="7.00" height="1.95" fill="#f8ec24" />
<rect x="470.00" y="156.33" width="11.00" height="1.95" fill="#f8ec24" />
<rect x="490.00" y="156.33" width="1.00" height="1.95" fill="#f8ec24" />
<rect x="439.00" y="158.53" width="15.00" height="1.95" fill="#eca386" />
<rect x="454.00" y="158.53" width="2.00" height="1.95" fill="#f8ec24" />
<rect x="442.00" y="160.72" width="12.00" height="1.95" fill="#eca386" />
<rect x="473.00" y="160.72" width="3.00" height="1.95" fill="#f8ec24" />
<rect x="489.00" y="160.72" width="2.00" height="1.95" fill="#f8ec24" />
<rect x="443.00" y="162.83" width="8.00" height="1.95" fill="#eca386" />
<rect x="446.00" y="162.83" width="3.00" height="1.95" fill="#ec1820" />
<rect x="443.00" y="165.93" width="8.00" height="1.95" fill="#eca386" />
<rect x="441.00" y="165.93" width="2.00" height="1.95" fill="#f8ec24" />
<rect x="465.00" y="165.93" width="2.00" height="1.95" fill="#f8ec24" />
<rect x="470.00" y="165.93" width="6.00" height="1.95" fill="#f8ec24" />
<rect x="490.00" y="165.93" width="3.00" height="1.95" fill="#f8ec24" />
<rect x="446.00" y="165.93" width="2.00" height="1.95" fill="#ec1820" />
<rect x="429.90" y="169.72" width="59.80" height="1.95" fill="#eca386" />
<rect x="370.40" y="169.72" width="7.20" height="1.95" fill="#f8ec24" />
<rect x="489.00" y="169.72" width="5.00" height="1.95" fill="#f8ec24" />
<rect x="516.00" y="169.72" width="8.00" height="1.95" fill="#f8ec24" />
<rect x="534.00" y="169.72" width="1.00" height="1.95" fill="#f8ec24" />
<rect x="441.00" y="169.72" width="5.00" height="1.95" fill="#ec1820" />
<rect x="370.00" y="171.93" width="4.00" height="1.95" fill="#eca386" />
<rect x="410.00" y="171.93" width="6.00" height="1.95" fill="#eca386" />
<rect x="428.00" y="171.93" width="9.00" height="1.95" fill="#eca386" />
<rect x="446.00" y="171.93" width="4.00" height="1.95" fill="#eca386" />
<rect x="475.00" y="171.93" width="16.00" height="1.95" fill="#eca386" />
<rect x="491.00" y="171.93" width="3.00" height="1.95" fill="#f8ec24" />
<rect x="518.00" y="171.93" width="6.00" height="1.95" fill="#e8501e" />
<rect x="530.00" y="171.93" width="5.00" height="1.95" fill="#e8501e" />
<rect x="364.00" y="171.93" width="1.00" height="1.95" fill="#ec1820" />
<rect x="374.00" y="171.93" width="3.00" height="1.95" fill="#ec1820" />
<rect x="416.00" y="171.93" width="12.00" height="1.95" fill="#ec1820" />
<rect x="437.00" y="171.93" width="9.00" height="1.95" fill="#ec1820" />
<rect x="450.00" y="171.93" width="25.00" height="1.95" fill="#ec1820" />
<rect x="490.00" y="171.93" width="2.00" height="1.95" fill="#ec1820" />
<rect x="498.00" y="171.93" width="2.00" height="1.95" fill="#ec1820" />
<rect x="504.00" y="171.93" width="2.00" height="1.95" fill="#ec1820" />
<rect x="430.00" y="174.03" width="61.00" height="1.95" fill="#eca386" />
<rect x="490.00" y="174.03" width="2.00" height="1.95" fill="#f8ec24" />
<rect x="442.00" y="174.03" width="4.00" height="1.95" fill="#ec1820" />
<rect x="433.00" y="176.22" width="58.00" height="1.95" fill="#eca386" />
<rect x="493.00" y="176.22" width="6.00" height="1.95" fill="#f8ec24" />
<rect x="443.00" y="176.22" width="4.00" height="1.95" fill="#ec1820" />
<rect x="434.00" y="178.43" width="56.00" height="1.95" fill="#eca386" />
<rect x="491.00" y="178.43" width="7.00" height="1.95" fill="#f8ec24" />
<rect x="444.00" y="178.43" width="5.00" height="1.95" fill="#ec1820" />
<rect x="416.00" y="180.62" width="75.00" height="1.95" fill="#eca386" />
<rect x="490.00" y="180.62" width="3.00" height="1.95" fill="#eca386" />
<rect x="517.00" y="180.62" width="7.00" height="1.95" fill="#eca386" />
<rect x="374.00" y="180.62" width="9.00" height="1.95" fill="#f8ec24" />
<rect x="389.00" y="180.62" width="1.00" height="1.95" fill="#f8ec24" />
<rect x="493.00" y="180.62" width="6.00" height="1.95" fill="#f8ec24" />
<rect x="524.00" y="180.62" width="1.00" height="1.95" fill="#f8ec24" />
<rect x="535.00" y="180.62" width="1.00" height="1.95" fill="#f8ec24" />
<rect x="446.00" y="180.62" width="1.00" height="1.95" fill="#ec1820" />
<rect x="429.00" y="182.83" width="53.00" height="1.95" fill="#eca386" />
<rect x="482.00" y="182.83" width="3.00" height="1.95" fill="#f8ec24" />
<rect x="490.00" y="182.83" width="3.00" height="1.95" fill="#f8ec24" />
<rect x="438.00" y="185.03" width="19.00" height="1.95" fill="#eca386" />
<rect x="467.00" y="185.03" width="13.00" height="1.95" fill="#eca386" />
<rect x="455.00" y="185.03" width="12.00" height="1.95" fill="#f8ec24" />
<rect x="420.00" y="188.03" width="76.00" height="1.95" fill="#eca386" />
<rect x="517.00" y="188.03" width="2.00" height="1.95" fill="#eca386" />
<rect x="407.00" y="188.03" width="1.00" height="1.95" fill="#f8ec24" />
<rect x="414.00" y="188.03" width="6.00" height="1.95" fill="#f8ec24" />
<rect x="496.00" y="188.03" width="3.00" height="1.95" fill="#f8ec24" />
<rect x="519.00" y="188.03" width="16.00" height="1.95" fill="#f8ec24" />
<rect x="408.00" y="188.03" width="6.00" height="1.95" fill="#ec1820" />
<rect x="425.00" y="190.22" width="31.00" height="1.95" fill="#eca386" />
<rect x="473.00" y="190.22" width="9.00" height="1.95" fill="#eca386" />
<rect x="409.00" y="190.22" width="16.00" height="1.95" fill="#f8ec24" />
<rect x="455.00" y="190.22" width="18.00" height="1.95" fill="#f8ec24" />
<rect x="490.00" y="190.22" width="3.00" height="1.95" fill="#f8ec24" />
<rect x="517.00" y="190.22" width="7.00" height="1.95" fill="#f8ec24" />
<rect x="531.00" y="190.22" width="4.00" height="1.95" fill="#f8ec24" />
<rect x="412.00" y="192.33" width="80.00" height="1.95" fill="#eca386" />
<rect x="444.00" y="192.33" width="6.00" height="1.95" fill="#ec1820" />
<rect x="418.00" y="194.53" width="37.00" height="1.95" fill="#eca386" />
<rect x="468.00" y="194.53" width="12.00" height="1.95" fill="#eca386" />
<rect x="455.00" y="194.53" width="5.00" height="1.95" fill="#f8ec24" />
<rect x="464.00" y="194.53" width="4.00" height="1.95" fill="#f8ec24" />
<rect x="442.00" y="194.53" width="5.00" height="1.95" fill="#ec1820" />
<rect x="371.00" y="196.62" width="7.00" height="1.95" fill="#eca386" />
<rect x="407.00" y="196.62" width="122.00" height="1.95" fill="#eca386" />
<rect x="378.00" y="196.62" width="4.00" height="1.95" fill="#f8ec24" />
<rect x="529.00" y="196.62" width="8.00" height="1.95" fill="#f8ec24" />
<rect x="440.00" y="196.62" width="7.00" height="1.95" fill="#ec1820" />
<rect x="439.00" y="198.83" width="51.00" height="1.95" fill="#eca386" />
<rect x="375.00" y="198.83" width="1.00" height="1.95" fill="#f8ec24" />
<rect x="409.00" y="198.83" width="16.00" height="1.95" fill="#f8ec24" />
<rect x="430.00" y="198.83" width="9.00" height="1.95" fill="#f8ec24" />
<rect x="490.00" y="198.83" width="13.00" height="1.95" fill="#f8ec24" />
<rect x="518.00" y="198.83" width="17.00" height="1.95" fill="#f8ec24" />
<rect x="420.00" y="201.03" width="12.00" height="1.95" fill="#eca386" />
<rect x="439.00" y="201.03" width="54.00" height="1.95" fill="#eca386" />
<rect x="412.00" y="201.03" width="8.00" height="1.95" fill="#f8ec24" />
<rect x="493.00" y="201.03" width="6.00" height="1.95" fill="#f8ec24" />
<rect x="518.00" y="201.03" width="9.00" height="1.95" fill="#f8ec24" />
<rect x="530.00" y="201.03" width="2.00" height="1.95" fill="#f8ec24" />
<rect x="442.00" y="201.03" width="5.00" height="1.95" fill="#ec1820" />
<rect x="425.00" y="203.12" width="68.00" height="1.95" fill="#eca386" />
<rect x="493.00" y="203.12" width="7.00" height="1.95" fill="#f8ec24" />
<rect x="517.00" y="203.12" width="9.00" height="1.95" fill="#f8ec24" />
<rect x="528.00" y="203.12" width="4.00" height="1.95" fill="#f8ec24" />
<rect x="441.00" y="203.12" width="8.00" height="1.95" fill="#ec1820" />
<rect x="431.00" y="205.33" width="61.00" height="1.95" fill="#eca386" />
<rect x="419.00" y="205.33" width="2.00" height="1.95" fill="#f8ec24" />
<rect x="491.00" y="205.33" width="2.00" height="1.95" fill="#f8ec24" />
<rect x="445.00" y="205.33" width="5.00" height="1.95" fill="#ec1820" />
<rect x="439.00" y="207.53" width="31.00" height="1.95" fill="#eca386" />
<rect x="473.00" y="207.53" width="21.00" height="1.95" fill="#eca386" />
<rect x="416.00" y="207.53" width="2.00" height="1.95" fill="#f8ec24" />
<rect x="420.00" y="207.53" width="18.00" height="1.95" fill="#f8ec24" />
<rect x="470.00" y="207.53" width="3.00" height="1.95" fill="#f8ec24" />
<rect x="480.00" y="207.53" width="3.00" height="1.95" fill="#f8ec24" />
<rect x="521.00" y="207.53" width="6.00" height="1.95" fill="#f8ec24" />
<rect x="530.00" y="207.53" width="2.00" height="1.95" fill="#f8ec24" />
<rect x="444.00" y="207.53" width="5.00" height="1.95" fill="#ec1820" />
<rect x="519.00" y="207.53" width="2.00" height="1.95" fill="#ec1820" />
<rect x="439.00" y="209.62" width="14.00" height="1.95" fill="#eca386" />
<rect x="454.00" y="209.62" width="8.00" height="1.95" fill="#eca386" />
<rect x="477.00" y="209.62" width="3.00" height="1.95" fill="#eca386" />
<rect x="416.00" y="209.62" width="1.00" height="1.95" fill="#f8ec24" />
<rect x="422.00" y="209.62" width="17.00" height="1.95" fill="#f8ec24" />
<rect x="461.00" y="209.62" width="16.00" height="1.95" fill="#f8ec24" />
<rect x="480.00" y="209.62" width="20.00" height="1.95" fill="#f8ec24" />
<rect x="439.00" y="211.83" width="18.00" height="1.95" fill="#eca386" />
<rect x="469.00" y="211.83" width="12.00" height="1.95" fill="#eca386" />
<rect x="423.00" y="211.83" width="3.00" height="1.95" fill="#f8ec24" />
<rect x="432.00" y="211.83" width="7.00" height="1.95" fill="#f8ec24" />
<rect x="464.00" y="211.83" width="5.00" height="1.95" fill="#f8ec24" />
<rect x="481.00" y="211.83" width="18.00" height="1.95" fill="#f8ec24" />
<rect x="517.00" y="211.83" width="13.00" height="1.95" fill="#f8ec24" />
<rect x="430.00" y="215.12" width="64.00" height="1.95" fill="#eca386" />
<rect x="493.00" y="215.12" width="2.00" height="1.95" fill="#f8ec24" />
<rect x="519.00" y="215.12" width="13.00" height="1.95" fill="#f8ec24" />
<rect x="445.00" y="215.12" width="6.00" height="1.95" fill="#ec1820" />
<rect x="439.00" y="217.03" width="16.00" height="1.95" fill="#eca386" />
<rect x="469.00" y="217.03" width="20.00" height="1.95" fill="#eca386" />
<rect x="455.00" y="217.03" width="14.00" height="1.95" fill="#f8ec24" />
<rect x="422.00" y="220.03" width="85.00" height="1.95" fill="#eca386" />
<rect x="513.00" y="220.03" width="13.00" height="1.95" fill="#eca386" />
<rect x="374.00" y="220.03" width="2.00" height="1.95" fill="#f8ec24" />
<rect x="418.00" y="220.03" width="2.00" height="1.95" fill="#f8ec24" />
<rect x="526.00" y="220.03" width="7.00" height="1.95" fill="#f8ec24" />
<rect x="439.00" y="222.22" width="36.00" height="1.95" fill="#eca386" />
<rect x="438.00" y="222.22" width="4.00" height="1.95" fill="#f8ec24" />
<rect x="474.00" y="222.22" width="2.00" height="1.95" fill="#f8ec24" />
<rect x="443.00" y="222.22" width="8.00" height="1.95" fill="#ec1820" />
<rect x="438.00" y="224.43" width="16.00" height="1.95" fill="#eca386" />
<rect x="469.00" y="224.43" width="12.00" height="1.95" fill="#eca386" />
<rect x="454.00" y="224.43" width="15.00" height="1.95" fill="#f8ec24" />
<rect x="518.00" y="224.43" width="7.00" height="1.95" fill="#f8ec24" />
<rect x="445.00" y="224.43" width="6.00" height="1.95" fill="#ec1820" />
<rect x="420.00" y="226.53" width="78.00" height="1.95" fill="#eca386" />
<rect x="518.00" y="226.53" width="4.00" height="1.95" fill="#eca386" />
<rect x="374.00" y="226.53" width="2.00" height="1.95" fill="#f8ec24" />
<rect x="498.00" y="226.53" width="6.00" height="1.95" fill="#f8ec24" />
<rect x="522.00" y="226.53" width="12.00" height="1.95" fill="#f8ec24" />
<rect x="562.00" y="226.53" width="8.00" height="1.95" fill="#f8ec24" />
<rect x="432.00" y="228.72" width="37.00" height="1.95" fill="#eca386" />
<rect x="477.00" y="228.72" width="4.00" height="1.95" fill="#eca386" />
<rect x="490.00" y="228.72" width="9.00" height="1.95" fill="#eca386" />
<rect x="517.00" y="228.72" width="15.00" height="1.95" fill="#eca386" />
<rect x="469.00" y="228.72" width="8.00" height="1.95" fill="#f8ec24" />
<rect x="487.00" y="228.72" width="3.00" height="1.95" fill="#f8ec24" />
<rect x="438.00" y="230.93" width="42.00" height="1.95" fill="#eca386" />
<rect x="430.00" y="230.93" width="8.00" height="1.95" fill="#f8ec24" />
<rect x="457.00" y="230.93" width="15.00" height="1.95" fill="#f8ec24" />
<rect x="443.00" y="230.93" width="9.00" height="1.95" fill="#ec1820" />
<rect x="521.00" y="230.93" width="1.00" height="1.95" fill="#ec1820" />
<rect x="433.00" y="233.03" width="47.00" height="1.95" fill="#eca386" />
<rect x="373.00" y="233.03" width="2.00" height="1.95" fill="#f8ec24" />
<rect x="518.00" y="233.03" width="7.00" height="1.95" fill="#f8ec24" />
<rect x="432.00" y="235.22" width="49.00" height="1.95" fill="#eca386" />
<rect x="518.00" y="235.22" width="4.00" height="1.95" fill="#f8ec24" />
<rect x="530.00" y="235.22" width="2.00" height="1.95" fill="#f8ec24" />
<rect x="447.00" y="235.22" width="2.00" height="1.95" fill="#ec1820" />
<rect x="431.00" y="237.43" width="45.00" height="1.95" fill="#eca386" />
<rect x="520.00" y="237.43" width="4.00" height="1.95" fill="#f8ec24" />
<rect x="422.00" y="239.53" width="63.00" height="1.95" fill="#eca386" />
<rect x="519.00" y="239.53" width="4.00" height="1.95" fill="#eca386" />
<rect x="372.00" y="239.53" width="5.00" height="1.95" fill="#f8ec24" />
<rect x="416.00" y="239.53" width="6.00" height="1.95" fill="#f8ec24" />
<rect x="485.00" y="239.53" width="17.00" height="1.95" fill="#f8ec24" />
<rect x="517.00" y="239.53" width="2.00" height="1.95" fill="#f8ec24" />
<rect x="523.00" y="239.53" width="13.00" height="1.95" fill="#f8ec24" />
<rect x="562.00" y="239.53" width="12.00" height="1.95" fill="#f8ec24" />
<rect x="444.00" y="239.53" width="4.00" height="1.95" fill="#ec1820" />
<rect x="431.00" y="241.72" width="54.00" height="1.95" fill="#eca386" />
<rect x="442.00" y="243.93" width="39.00" height="1.95" fill="#eca386" />
<rect x="440.00" y="243.93" width="2.00" height="1.95" fill="#f8ec24" />
<rect x="465.00" y="243.93" width="11.00" height="1.95" fill="#f8ec24" />
<rect x="491.00" y="243.93" width="2.00" height="1.95" fill="#f8ec24" />
<rect x="518.00" y="243.93" width="5.00" height="1.95" fill="#f8ec24" />
<rect x="369.00" y="246.03" width="3.00" height="1.95" fill="#eca386" />
<rect x="422.00" y="246.03" width="74.00" height="1.95" fill="#eca386" />
<rect x="364.00" y="246.03" width="5.00" height="1.95" fill="#f8ec24" />
<rect x="375.00" y="246.03" width="2.00" height="1.95" fill="#f8ec24" />
<rect x="409.00" y="246.03" width="3.00" height="1.95" fill="#f8ec24" />
<rect x="372.00" y="246.03" width="3.00" height="1.95" fill="#ec1820" />
<rect x="377.00" y="246.03" width="2.00" height="1.95" fill="#ec1820" />
<rect x="412.00" y="246.03" width="1.00" height="1.95" fill="#ec1820" />
<rect x="441.00" y="246.03" width="4.00" height="1.95" fill="#ec1820" />
<rect x="446.00" y="246.03" width="8.00" height="1.95" fill="#ec1820" />
<rect x="460.00" y="246.03" width="20.00" height="1.95" fill="#ec1820" />
<rect x="484.00" y="246.03" width="4.00" height="1.95" fill="#ec1820" />
<rect x="490.00" y="246.03" width="6.00" height="1.95" fill="#ec1820" />
<rect x="503.00" y="246.03" width="2.00" height="1.95" fill="#ec1820" />
<rect x="516.00" y="246.03" width="10.00" height="1.95" fill="#ec1820" />
<rect x="534.00" y="246.03" width="1.00" height="1.95" fill="#ec1820" />
<rect x="430.00" y="248.22" width="65.00" height="1.95" fill="#eca386" />
<rect x="518.00" y="248.22" width="3.00" height="1.95" fill="#eca386" />
<rect x="454.00" y="248.22" width="12.00" height="1.95" fill="#f8ec24" />
<rect x="497.00" y="248.22" width="2.00" height="1.95" fill="#f8ec24" />
<rect x="523.00" y="248.22" width="8.00" height="1.95" fill="#f8ec24" />
<rect x="446.00" y="248.22" width="3.00" height="1.95" fill="#ec1820" />
<rect x="521.00" y="248.22" width="2.00" height="1.95" fill="#ec1820" />
<rect x="372.00" y="250.43" width="5.00" height="1.95" fill="#eca386" />
<rect x="429.00" y="250.43" width="71.00" height="1.95" fill="#eca386" />
<rect x="517.00" y="250.43" width="15.00" height="1.95" fill="#eca386" />
<rect x="455.00" y="250.43" width="15.00" height="1.95" fill="#f8ec24" />
<rect x="438.00" y="253.83" width="53.00" height="1.95" fill="#eca386" />
<rect x="510.00" y="253.83" width="13.00" height="1.95" fill="#eca386" />
<rect x="372.00" y="253.83" width="5.00" height="1.95" fill="#f8ec24" />
<rect x="419.00" y="253.83" width="7.00" height="1.95" fill="#f8ec24" />
<rect x="433.00" y="253.83" width="5.00" height="1.95" fill="#f8ec24" />
<rect x="491.00" y="253.83" width="3.00" height="1.95" fill="#f8ec24" />
<rect x="502.00" y="253.83" width="1.00" height="1.95" fill="#f8ec24" />
<rect x="523.00" y="253.83" width="13.00" height="1.95" fill="#f8ec24" />
<rect x="445.00" y="253.83" width="6.00" height="1.95" fill="#ec1820" />
<rect x="429.00" y="256.02" width="61.00" height="1.95" fill="#eca386" />
<rect x="419.00" y="256.02" width="10.00" height="1.95" fill="#f8ec24" />
<rect x="490.00" y="256.02" width="3.00" height="1.95" fill="#f8ec24" />
<rect x="518.00" y="256.02" width="2.00" height="1.95" fill="#f8ec24" />
<rect x="440.00" y="258.12" width="13.00" height="1.95" fill="#eca386" />
<rect x="438.00" y="258.12" width="2.00" height="1.95" fill="#f8ec24" />
<rect x="464.00" y="258.12" width="4.00" height="1.95" fill="#f8ec24" />
<rect x="470.00" y="258.12" width="6.00" height="1.95" fill="#f8ec24" />
<rect x="490.00" y="258.12" width="3.00" height="1.95" fill="#f8ec24" />
<rect x="444.00" y="260.32" width="8.00" height="1.95" fill="#eca386" />
<rect x="442.00" y="260.32" width="2.00" height="1.95" fill="#f8ec24" />
<rect x="452.00" y="260.32" width="3.00" height="1.95" fill="#f8ec24" />
<rect x="490.00" y="260.32" width="2.00" height="1.95" fill="#f8ec24" />
<rect x="446.00" y="260.32" width="3.00" height="1.95" fill="#ec1820" />
<rect x="430.00" y="262.42" width="63.00" height="1.95" fill="#eca386" />
<rect x="513.00" y="262.42" width="16.00" height="1.95" fill="#eca386" />
<rect x="529.00" y="262.42" width="7.00" height="1.95" fill="#f8ec24" />
<rect x="428.00" y="264.62" width="107.00" height="1.95" fill="#eca386" />
<rect x="374.00" y="264.62" width="2.00" height="1.95" fill="#f8ec24" />
<rect x="532.00" y="264.62" width="4.00" height="1.95" fill="#f8ec24" />
<rect x="446.00" y="264.62" width="3.00" height="1.95" fill="#ec1820" />
<rect x="443.00" y="267.52" width="10.00" height="1.95" fill="#eca386" />
<rect x="441.00" y="267.52" width="2.00" height="1.95" fill="#f8ec24" />
<rect x="451.00" y="267.52" width="3.00" height="1.95" fill="#f8ec24" />
<rect x="444.00" y="267.52" width="7.00" height="1.95" fill="#ec1820" />
<rect x="443.00" y="269.62" width="9.00" height="1.95" fill="#eca386" />
<rect x="444.00" y="269.62" width="7.00" height="1.95" fill="#ec1820" />
<rect x="420.00" y="271.82" width="2.00" height="1.95" fill="#eca386" />
<rect x="432.00" y="271.82" width="73.00" height="1.95" fill="#eca386" />
<rect x="517.00" y="271.82" width="7.00" height="1.95" fill="#eca386" />
<rect x="530.00" y="271.82" width="5.00" height="1.95" fill="#eca386" />
<rect x="365.00" y="271.82" width="3.00" height="1.95" fill="#f8ec24" />
<rect x="371.00" y="271.82" width="5.00" height="1.95" fill="#f8ec24" />
<rect x="409.00" y="271.82" width="11.00" height="1.95" fill="#f8ec24" />
<rect x="422.00" y="271.82" width="10.00" height="1.95" fill="#f8ec24" />
<rect x="484.00" y="271.82" width="16.00" height="1.95" fill="#f8ec24" />
<rect x="524.00" y="271.82" width="6.00" height="1.95" fill="#f8ec24" />
<rect x="535.00" y="271.82" width="7.00" height="1.95" fill="#f8ec24" />
<rect x="432.00" y="274.02" width="52.00" height="1.95" fill="#eca386" />
<rect x="484.00" y="274.02" width="21.00" height="1.95" fill="#f8ec24" />
<rect x="516.00" y="274.02" width="10.00" height="1.95" fill="#f8ec24" />
<rect x="526.00" y="274.02" width="5.00" height="1.95" fill="#f8ec24" />
<rect x="443.00" y="274.02" width="4.00" height="1.95" fill="#ec1820" />
<rect x="519.00" y="274.02" width="4.00" height="1.95" fill="#ec1820" />
<rect x="439.00" y="276.22" width="15.00" height="1.95" fill="#eca386" />
<rect x="470.00" y="276.22" width="11.00" height="1.95" fill="#eca386" />
<rect x="528.00" y="276.22" width="4.00" height="1.95" fill="#eca386" />
<rect x="432.00" y="276.22" width="7.00" height="1.95" fill="#f8ec24" />
<rect x="454.00" y="276.22" width="16.00" height="1.95" fill="#f8ec24" />
<rect x="517.00" y="276.22" width="7.00" height="1.95" fill="#f8ec24" />
<line x1="476.20" y1="9.40" x2="476.20" y2="280.00" stroke="#e44848" stroke-width="0.9" />
</svg>
</body></html>
